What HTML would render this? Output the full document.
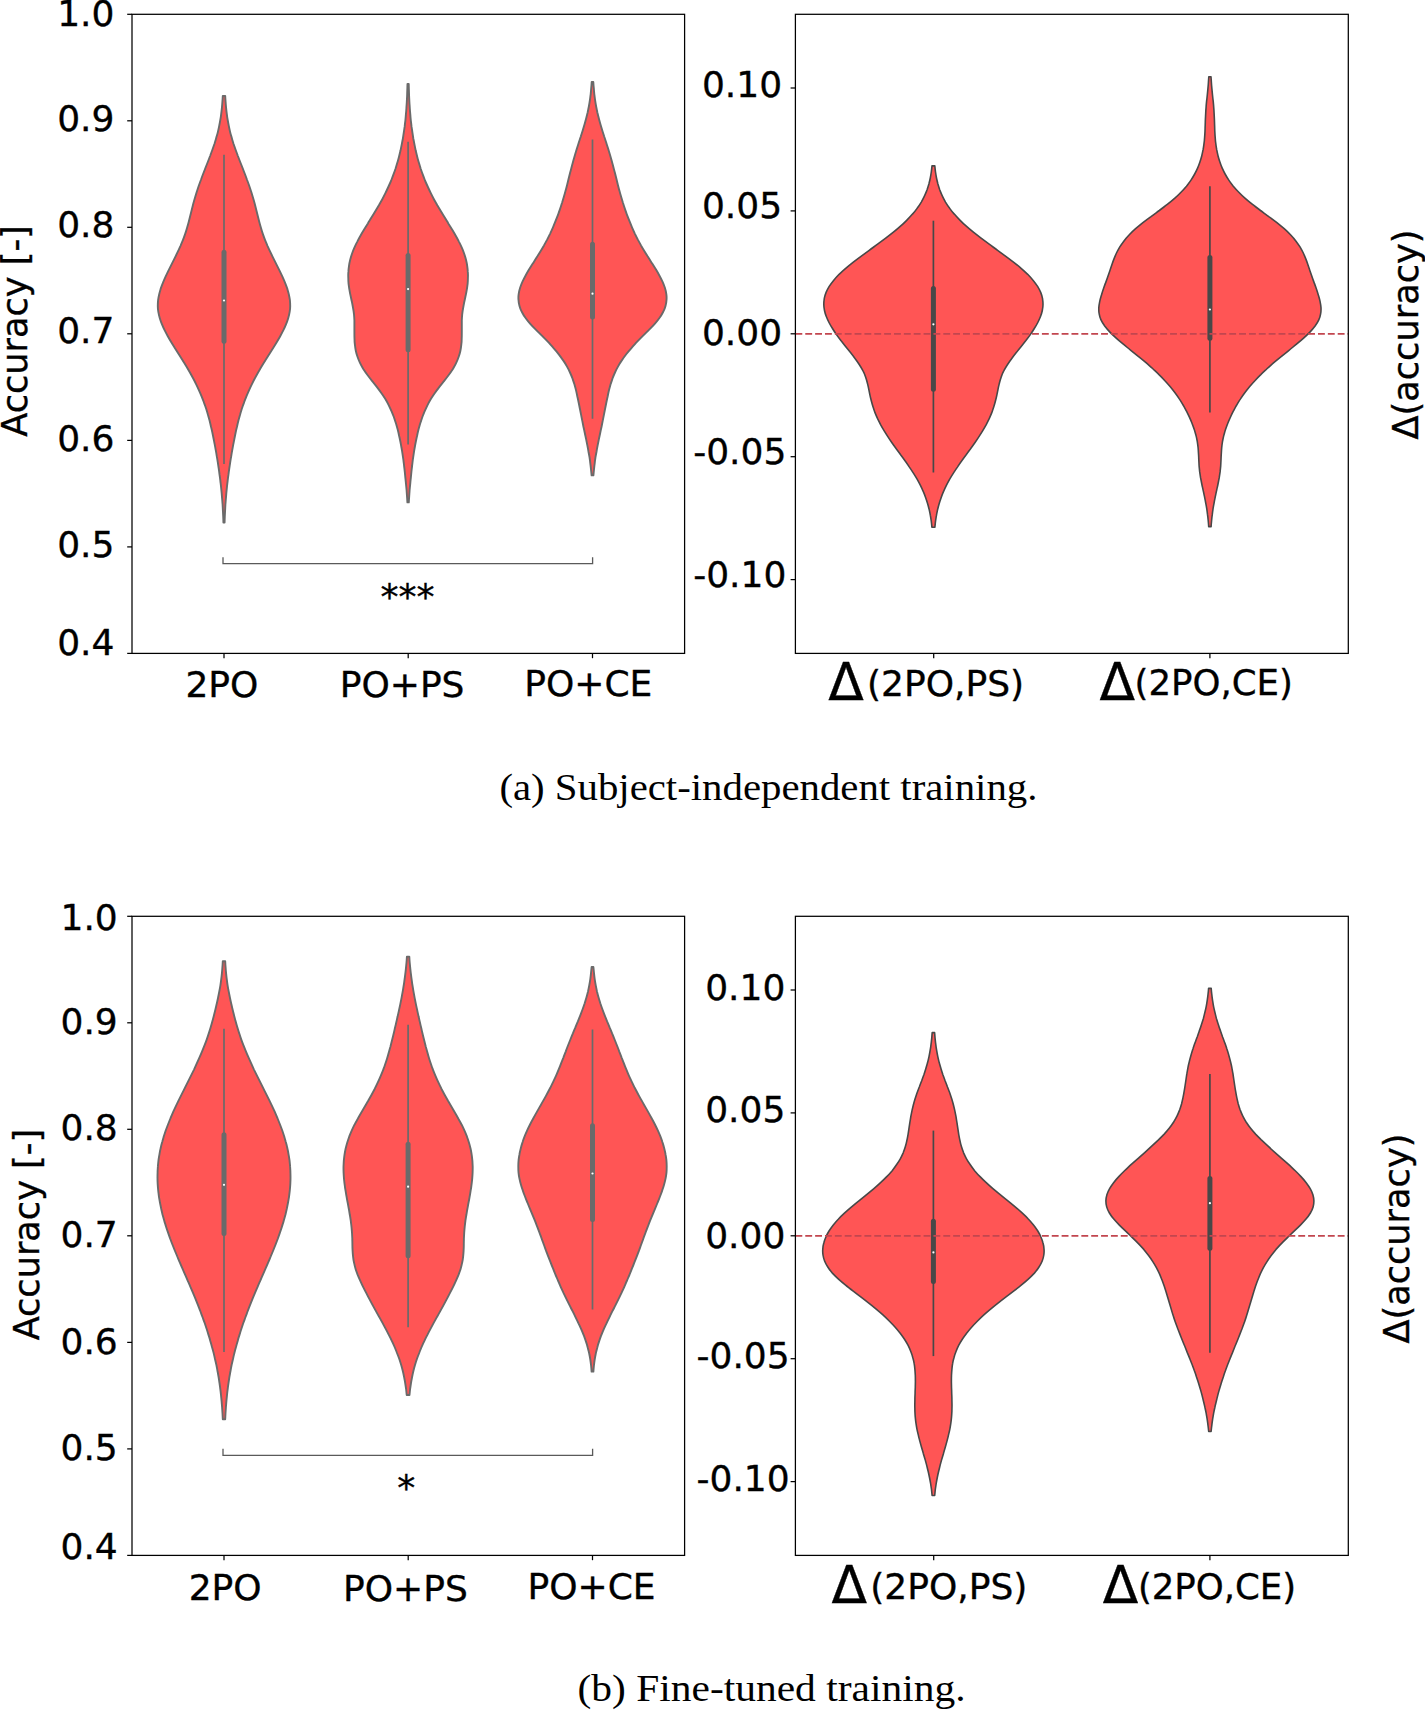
<!DOCTYPE html>
<html><head><meta charset="utf-8"><title>Violin plots</title>
<style>
html,body{margin:0;padding:0;background:#fff}
body{width:1425px;height:1711px;overflow:hidden}
svg{display:block;font-family:"DejaVu Sans","Liberation Sans",sans-serif;fill:#000}
text{stroke:#000;stroke-width:.35px}
.cap{stroke:none}
.db{stroke-width:1.9px;stroke-linejoin:round}
</style></head><body>
<svg width="1425" height="1711" viewBox="0 0 1425 1711">
<rect width="1425" height="1711" fill="#fff"/>
<path d="M225.2 95.9C225.3 97.9 225.4 99.9 225.6 101.9C225.7 103.9 225.9 105.9 226.1 107.9C226.3 109.9 226.5 111.9 226.8 113.9C227.0 115.9 227.3 117.9 227.7 119.9C228.0 121.9 228.4 123.9 228.8 125.9C229.2 127.9 229.6 129.9 230.1 131.9C230.6 133.9 231.2 135.9 231.8 138.0C232.3 140.0 233.0 142.0 233.6 144.0C234.3 146.0 235.0 148.0 235.7 150.0C236.4 152.0 237.2 154.0 237.9 156.0C238.7 158.0 239.4 160.0 240.2 162.0C241.0 164.0 241.8 166.0 242.6 168.0C243.3 170.0 244.1 172.0 244.9 174.0C245.7 176.0 246.4 178.0 247.1 180.0C247.9 182.0 248.6 184.0 249.3 186.0C250.0 188.0 250.6 190.0 251.3 192.0C251.9 194.0 252.5 196.0 253.1 198.0C253.7 200.0 254.3 202.0 254.8 204.0C255.3 206.0 255.8 208.0 256.3 210.0C256.8 212.0 257.3 214.1 257.8 216.1C258.3 218.1 258.8 220.1 259.3 222.1C259.8 224.1 260.4 226.1 261.0 228.1C261.5 230.1 262.2 232.1 262.9 234.1C263.6 236.1 264.3 238.1 265.1 240.1C265.9 242.1 266.8 244.1 267.6 246.1C268.5 248.1 269.4 250.1 270.4 252.1C271.3 254.1 272.3 256.1 273.3 258.1C274.3 260.1 275.3 262.1 276.3 264.1C277.3 266.1 278.3 268.1 279.3 270.1C280.3 272.1 281.2 274.1 282.2 276.1C283.1 278.1 284.0 280.1 284.8 282.1C285.6 284.1 286.4 286.1 287.1 288.1C287.7 290.2 288.3 292.2 288.8 294.2C289.3 296.2 289.6 298.2 289.9 300.2C290.1 302.2 290.2 304.2 290.2 306.2C290.2 308.2 290.0 310.2 289.6 312.2C289.3 314.2 288.8 316.2 288.2 318.2C287.6 320.2 286.9 322.2 286.1 324.2C285.3 326.2 284.4 328.2 283.4 330.2C282.4 332.2 281.3 334.2 280.2 336.2C279.1 338.2 277.9 340.2 276.7 342.2C275.5 344.2 274.2 346.2 273.0 348.2C271.7 350.2 270.5 352.2 269.2 354.2C267.9 356.2 266.7 358.2 265.4 360.2C264.2 362.2 262.9 364.2 261.7 366.3C260.5 368.3 259.4 370.3 258.2 372.3C257.1 374.3 256.0 376.3 254.9 378.3C253.8 380.3 252.8 382.3 251.8 384.3C250.8 386.3 249.9 388.3 249.0 390.3C248.1 392.3 247.2 394.3 246.4 396.3C245.6 398.3 244.8 400.3 244.1 402.3C243.3 404.3 242.7 406.3 242.0 408.3C241.4 410.3 240.7 412.3 240.2 414.3C239.6 416.3 239.1 418.3 238.5 420.3C238.0 422.3 237.5 424.3 237.1 426.3C236.6 428.3 236.1 430.3 235.7 432.3C235.3 434.3 234.9 436.3 234.5 438.3C234.1 440.3 233.7 442.4 233.3 444.4C232.9 446.4 232.6 448.4 232.2 450.4C231.8 452.4 231.5 454.4 231.2 456.4C230.8 458.4 230.5 460.4 230.2 462.4C229.9 464.4 229.6 466.4 229.3 468.4C229.0 470.4 228.7 472.4 228.5 474.4C228.2 476.4 227.9 478.4 227.7 480.4C227.5 482.4 227.2 484.4 227.0 486.4C226.8 488.4 226.6 490.4 226.4 492.4C226.2 494.4 226.1 496.4 225.9 498.4C225.7 500.4 225.6 502.4 225.4 504.4C225.3 506.4 225.2 508.4 225.1 510.4C225.0 512.4 224.9 514.4 224.8 516.4C224.7 518.5 224.6 520.5 224.6 522.5L223.4 522.5C223.4 520.5 223.3 518.5 223.2 516.4C223.1 514.4 223.0 512.4 222.9 510.4C222.8 508.4 222.7 506.4 222.6 504.4C222.4 502.4 222.3 500.4 222.1 498.4C221.9 496.4 221.8 494.4 221.6 492.4C221.4 490.4 221.2 488.4 221.0 486.4C220.8 484.4 220.5 482.4 220.3 480.4C220.1 478.4 219.8 476.4 219.5 474.4C219.3 472.4 219.0 470.4 218.7 468.4C218.4 466.4 218.1 464.4 217.8 462.4C217.5 460.4 217.2 458.4 216.8 456.4C216.5 454.4 216.2 452.4 215.8 450.4C215.4 448.4 215.1 446.4 214.7 444.4C214.3 442.4 213.9 440.3 213.5 438.3C213.1 436.3 212.7 434.3 212.3 432.3C211.9 430.3 211.4 428.3 210.9 426.3C210.5 424.3 210.0 422.3 209.5 420.3C208.9 418.3 208.4 416.3 207.8 414.3C207.3 412.3 206.6 410.3 206.0 408.3C205.3 406.3 204.7 404.3 203.9 402.3C203.2 400.3 202.4 398.3 201.6 396.3C200.8 394.3 199.9 392.3 199.0 390.3C198.1 388.3 197.2 386.3 196.2 384.3C195.2 382.3 194.2 380.3 193.1 378.3C192.0 376.3 190.9 374.3 189.8 372.3C188.6 370.3 187.5 368.3 186.3 366.3C185.1 364.2 183.8 362.2 182.6 360.2C181.3 358.2 180.1 356.2 178.8 354.2C177.5 352.2 176.3 350.2 175.0 348.2C173.8 346.2 172.5 344.2 171.3 342.2C170.1 340.2 168.9 338.2 167.8 336.2C166.7 334.2 165.6 332.2 164.6 330.2C163.6 328.2 162.7 326.2 161.9 324.2C161.1 322.2 160.4 320.2 159.8 318.2C159.2 316.2 158.7 314.2 158.4 312.2C158.0 310.2 157.8 308.2 157.8 306.2C157.8 304.2 157.9 302.2 158.1 300.2C158.4 298.2 158.7 296.2 159.2 294.2C159.7 292.2 160.3 290.2 160.9 288.1C161.6 286.1 162.4 284.1 163.2 282.1C164.0 280.1 164.9 278.1 165.8 276.1C166.8 274.1 167.7 272.1 168.7 270.1C169.7 268.1 170.7 266.1 171.7 264.1C172.7 262.1 173.7 260.1 174.7 258.1C175.7 256.1 176.7 254.1 177.6 252.1C178.6 250.1 179.5 248.1 180.4 246.1C181.2 244.1 182.1 242.1 182.9 240.1C183.7 238.1 184.4 236.1 185.1 234.1C185.8 232.1 186.5 230.1 187.0 228.1C187.6 226.1 188.2 224.1 188.7 222.1C189.2 220.1 189.7 218.1 190.2 216.1C190.7 214.1 191.2 212.0 191.7 210.0C192.2 208.0 192.7 206.0 193.2 204.0C193.7 202.0 194.3 200.0 194.9 198.0C195.5 196.0 196.1 194.0 196.7 192.0C197.4 190.0 198.0 188.0 198.7 186.0C199.4 184.0 200.1 182.0 200.9 180.0C201.6 178.0 202.3 176.0 203.1 174.0C203.9 172.0 204.7 170.0 205.4 168.0C206.2 166.0 207.0 164.0 207.8 162.0C208.6 160.0 209.3 158.0 210.1 156.0C210.8 154.0 211.6 152.0 212.3 150.0C213.0 148.0 213.7 146.0 214.4 144.0C215.0 142.0 215.7 140.0 216.2 138.0C216.8 135.9 217.4 133.9 217.9 131.9C218.4 129.9 218.8 127.9 219.2 125.9C219.6 123.9 220.0 121.9 220.3 119.9C220.7 117.9 221.0 115.9 221.2 113.9C221.5 111.9 221.7 109.9 221.9 107.9C222.1 105.9 222.3 103.9 222.4 101.9C222.6 99.9 222.7 97.9 222.8 95.9Z" fill="#ff5555" stroke="#6a6a6a" stroke-width="1.9" stroke-linejoin="round"/>
<line x1="224.0" y1="154.8" x2="224.0" y2="464.0" stroke="#6a6a6a" stroke-width="1.7"/>
<line x1="224.0" y1="252.2" x2="224.0" y2="341.3" stroke="#6a6a6a" stroke-width="5" stroke-linecap="round"/>
<circle cx="224.0" cy="300.5" r="1.1" fill="#fff"/>
<path d="M408.7 83.9C408.8 86.0 408.8 88.0 408.9 90.0C409.0 92.0 409.0 94.0 409.1 96.1C409.2 98.1 409.3 100.1 409.4 102.1C409.5 104.1 409.7 106.2 409.8 108.2C409.9 110.2 410.1 112.2 410.3 114.3C410.4 116.3 410.6 118.3 410.8 120.3C411.1 122.3 411.3 124.4 411.5 126.4C411.8 128.4 412.1 130.4 412.4 132.4C412.7 134.5 413.0 136.5 413.3 138.5C413.7 140.5 414.1 142.6 414.5 144.6C414.9 146.6 415.3 148.6 415.7 150.6C416.2 152.7 416.7 154.7 417.2 156.7C417.7 158.7 418.3 160.7 418.9 162.8C419.5 164.8 420.1 166.8 420.7 168.8C421.4 170.9 422.1 172.9 422.9 174.9C423.6 176.9 424.4 178.9 425.2 181.0C426.1 183.0 427.0 185.0 427.9 187.0C428.8 189.0 429.8 191.1 430.8 193.1C431.8 195.1 432.8 197.1 433.9 199.2C435.0 201.2 436.2 203.2 437.3 205.2C438.5 207.2 439.7 209.3 440.9 211.3C442.1 213.3 443.3 215.3 444.6 217.3C445.8 219.4 447.1 221.4 448.3 223.4C449.6 225.4 450.8 227.5 452.1 229.5C453.3 231.5 454.5 233.5 455.6 235.5C456.8 237.6 457.9 239.6 458.9 241.6C460.0 243.6 460.9 245.6 461.8 247.7C462.7 249.7 463.5 251.7 464.2 253.7C464.9 255.8 465.5 257.8 466.0 259.8C466.5 261.8 466.9 263.8 467.2 265.9C467.5 267.9 467.7 269.9 467.8 271.9C468.0 273.9 468.0 276.0 467.9 278.0C467.9 280.0 467.8 282.0 467.6 284.1C467.3 286.1 467.1 288.1 466.7 290.1C466.4 292.1 466.0 294.2 465.5 296.2C465.1 298.2 464.7 300.2 464.2 302.2C463.8 304.3 463.4 306.3 463.1 308.3C462.7 310.3 462.4 312.4 462.2 314.4C462.0 316.4 461.9 318.4 461.8 320.4C461.8 322.5 461.8 324.5 461.8 326.5C461.8 328.5 461.8 330.5 461.8 332.6C461.8 334.6 461.8 336.6 461.7 338.6C461.7 340.7 461.6 342.7 461.3 344.7C461.1 346.7 460.8 348.7 460.4 350.8C460.0 352.8 459.4 354.8 458.7 356.8C458.0 358.8 457.2 360.9 456.2 362.9C455.3 364.9 454.1 366.9 452.9 369.0C451.6 371.0 450.2 373.0 448.7 375.0C447.2 377.0 445.6 379.1 444.0 381.1C442.4 383.1 440.7 385.1 439.2 387.1C437.6 389.2 436.1 391.2 434.7 393.2C433.3 395.2 432.0 397.3 430.7 399.3C429.5 401.3 428.4 403.3 427.4 405.3C426.4 407.4 425.5 409.4 424.6 411.4C423.7 413.4 423.0 415.4 422.2 417.5C421.5 419.5 420.9 421.5 420.2 423.5C419.6 425.6 419.1 427.6 418.5 429.6C418.0 431.6 417.5 433.6 417.1 435.7C416.6 437.7 416.2 439.7 415.8 441.7C415.4 443.7 415.0 445.8 414.7 447.8C414.3 449.8 414.0 451.8 413.7 453.9C413.4 455.9 413.1 457.9 412.8 459.9C412.6 461.9 412.3 464.0 412.1 466.0C411.8 468.0 411.6 470.0 411.4 472.0C411.2 474.1 411.0 476.1 410.8 478.1C410.5 480.1 410.4 482.2 410.2 484.2C410.0 486.2 409.8 488.2 409.6 490.2C409.5 492.3 409.3 494.3 409.2 496.3C409.0 498.3 408.9 500.3 408.8 502.4L407.4 502.4C407.3 500.3 407.2 498.3 407.0 496.3C406.9 494.3 406.7 492.3 406.6 490.2C406.4 488.2 406.2 486.2 406.0 484.2C405.8 482.2 405.7 480.1 405.4 478.1C405.2 476.1 405.0 474.1 404.8 472.0C404.6 470.0 404.4 468.0 404.1 466.0C403.9 464.0 403.6 461.9 403.4 459.9C403.1 457.9 402.8 455.9 402.5 453.9C402.2 451.8 401.9 449.8 401.5 447.8C401.2 445.8 400.8 443.7 400.4 441.7C400.0 439.7 399.6 437.7 399.1 435.7C398.7 433.6 398.2 431.6 397.7 429.6C397.1 427.6 396.6 425.6 396.0 423.5C395.3 421.5 394.7 419.5 394.0 417.5C393.2 415.4 392.5 413.4 391.6 411.4C390.7 409.4 389.8 407.4 388.8 405.3C387.8 403.3 386.7 401.3 385.5 399.3C384.2 397.3 382.9 395.2 381.5 393.2C380.1 391.2 378.6 389.2 377.0 387.1C375.5 385.1 373.8 383.1 372.2 381.1C370.6 379.1 369.0 377.0 367.5 375.0C366.0 373.0 364.6 371.0 363.3 369.0C362.1 366.9 360.9 364.9 360.0 362.9C359.0 360.9 358.2 358.8 357.5 356.8C356.8 354.8 356.2 352.8 355.8 350.8C355.4 348.7 355.1 346.7 354.9 344.7C354.6 342.7 354.5 340.7 354.5 338.6C354.4 336.6 354.4 334.6 354.4 332.6C354.4 330.5 354.4 328.5 354.4 326.5C354.4 324.5 354.4 322.5 354.4 320.4C354.3 318.4 354.2 316.4 354.0 314.4C353.8 312.4 353.5 310.3 353.1 308.3C352.8 306.3 352.4 304.3 352.0 302.2C351.5 300.2 351.1 298.2 350.7 296.2C350.2 294.2 349.8 292.1 349.5 290.1C349.1 288.1 348.9 286.1 348.6 284.1C348.4 282.0 348.3 280.0 348.3 278.0C348.2 276.0 348.2 273.9 348.4 271.9C348.5 269.9 348.7 267.9 349.0 265.9C349.3 263.8 349.7 261.8 350.2 259.8C350.7 257.8 351.3 255.8 352.0 253.7C352.7 251.7 353.5 249.7 354.4 247.7C355.3 245.6 356.2 243.6 357.3 241.6C358.3 239.6 359.4 237.6 360.6 235.5C361.7 233.5 362.9 231.5 364.1 229.5C365.4 227.5 366.6 225.4 367.9 223.4C369.1 221.4 370.4 219.4 371.6 217.3C372.9 215.3 374.1 213.3 375.3 211.3C376.5 209.3 377.7 207.2 378.9 205.2C380.0 203.2 381.2 201.2 382.3 199.2C383.4 197.1 384.4 195.1 385.4 193.1C386.4 191.1 387.4 189.0 388.3 187.0C389.2 185.0 390.1 183.0 391.0 181.0C391.8 178.9 392.6 176.9 393.3 174.9C394.1 172.9 394.8 170.9 395.5 168.8C396.1 166.8 396.7 164.8 397.3 162.8C397.9 160.7 398.5 158.7 399.0 156.7C399.5 154.7 400.0 152.7 400.5 150.6C400.9 148.6 401.3 146.6 401.7 144.6C402.1 142.6 402.5 140.5 402.9 138.5C403.2 136.5 403.5 134.5 403.8 132.4C404.1 130.4 404.4 128.4 404.7 126.4C404.9 124.4 405.1 122.3 405.4 120.3C405.6 118.3 405.8 116.3 405.9 114.3C406.1 112.2 406.3 110.2 406.4 108.2C406.5 106.2 406.7 104.1 406.8 102.1C406.9 100.1 407.0 98.1 407.1 96.1C407.2 94.0 407.2 92.0 407.3 90.0C407.4 88.0 407.4 86.0 407.5 83.9Z" fill="#ff5555" stroke="#6a6a6a" stroke-width="1.9" stroke-linejoin="round"/>
<line x1="408.1" y1="141.8" x2="408.1" y2="444.4" stroke="#6a6a6a" stroke-width="1.7"/>
<line x1="408.1" y1="255.5" x2="408.1" y2="349.7" stroke="#6a6a6a" stroke-width="5" stroke-linecap="round"/>
<circle cx="408.1" cy="289.1" r="1.1" fill="#fff"/>
<path d="M593.3 82.0C593.4 84.0 593.6 86.1 593.8 88.1C593.9 90.1 594.1 92.1 594.3 94.1C594.6 96.1 594.8 98.2 595.1 100.2C595.4 102.2 595.7 104.2 596.1 106.2C596.5 108.2 596.9 110.3 597.3 112.3C597.8 114.3 598.3 116.3 598.8 118.3C599.3 120.3 599.9 122.4 600.5 124.4C601.1 126.4 601.7 128.4 602.3 130.4C602.9 132.4 603.6 134.5 604.2 136.5C604.9 138.5 605.5 140.5 606.2 142.5C606.8 144.6 607.5 146.6 608.1 148.6C608.7 150.6 609.3 152.6 609.9 154.6C610.5 156.7 611.1 158.7 611.7 160.7C612.2 162.7 612.8 164.7 613.3 166.7C613.8 168.8 614.4 170.8 614.9 172.8C615.4 174.8 615.9 176.8 616.4 178.8C616.9 180.9 617.4 182.9 617.9 184.9C618.4 186.9 618.9 188.9 619.5 190.9C620.0 193.0 620.6 195.0 621.2 197.0C621.8 199.0 622.4 201.0 623.0 203.0C623.7 205.1 624.3 207.1 625.0 209.1C625.7 211.1 626.4 213.1 627.1 215.2C627.9 217.2 628.7 219.2 629.5 221.2C630.3 223.2 631.1 225.2 632.0 227.3C632.9 229.3 633.8 231.3 634.7 233.3C635.7 235.3 636.7 237.3 637.7 239.4C638.8 241.4 639.9 243.4 641.0 245.4C642.2 247.4 643.4 249.4 644.6 251.5C645.8 253.5 647.1 255.5 648.4 257.5C649.6 259.5 650.9 261.5 652.2 263.6C653.5 265.6 654.7 267.6 656.0 269.6C657.2 271.6 658.4 273.7 659.5 275.7C660.6 277.7 661.6 279.7 662.5 281.7C663.4 283.7 664.2 285.8 664.9 287.8C665.5 289.8 666.0 291.8 666.3 293.8C666.6 295.8 666.7 297.9 666.5 299.9C666.4 301.9 666.1 303.9 665.5 305.9C665.0 307.9 664.2 310.0 663.1 312.0C662.1 314.0 660.9 316.0 659.4 318.0C658.0 320.0 656.3 322.1 654.5 324.1C652.7 326.1 650.7 328.1 648.7 330.1C646.7 332.1 644.6 334.2 642.6 336.2C640.6 338.2 638.6 340.2 636.7 342.2C634.8 344.3 632.9 346.3 631.2 348.3C629.4 350.3 627.7 352.3 626.2 354.3C624.6 356.4 623.1 358.4 621.8 360.4C620.4 362.4 619.2 364.4 618.1 366.4C616.9 368.5 615.9 370.5 615.0 372.5C614.1 374.5 613.2 376.5 612.5 378.5C611.8 380.6 611.1 382.6 610.5 384.6C610.0 386.6 609.4 388.6 608.9 390.6C608.4 392.7 608.0 394.7 607.6 396.7C607.1 398.7 606.7 400.7 606.3 402.7C605.9 404.8 605.5 406.8 605.1 408.8C604.7 410.8 604.3 412.8 603.9 414.9C603.5 416.9 603.1 418.9 602.7 420.9C602.3 422.9 601.9 424.9 601.5 427.0C601.0 429.0 600.6 431.0 600.2 433.0C599.8 435.0 599.3 437.0 598.9 439.1C598.5 441.1 598.1 443.1 597.7 445.1C597.3 447.1 596.9 449.1 596.6 451.2C596.2 453.2 595.8 455.2 595.5 457.2C595.2 459.2 594.9 461.2 594.7 463.3C594.4 465.3 594.2 467.3 594.0 469.3C593.8 471.3 593.6 473.4 593.4 475.4L591.6 475.4C591.4 473.4 591.2 471.3 591.0 469.3C590.8 467.3 590.6 465.3 590.3 463.3C590.1 461.2 589.8 459.2 589.5 457.2C589.2 455.2 588.8 453.2 588.4 451.2C588.1 449.1 587.7 447.1 587.3 445.1C586.9 443.1 586.5 441.1 586.1 439.1C585.7 437.0 585.2 435.0 584.8 433.0C584.4 431.0 584.0 429.0 583.5 427.0C583.1 424.9 582.7 422.9 582.3 420.9C581.9 418.9 581.5 416.9 581.1 414.9C580.7 412.8 580.3 410.8 579.9 408.8C579.5 406.8 579.1 404.8 578.7 402.7C578.3 400.7 577.9 398.7 577.4 396.7C577.0 394.7 576.6 392.7 576.1 390.6C575.6 388.6 575.0 386.6 574.5 384.6C573.9 382.6 573.2 380.6 572.5 378.5C571.8 376.5 570.9 374.5 570.0 372.5C569.1 370.5 568.1 368.5 566.9 366.4C565.8 364.4 564.6 362.4 563.2 360.4C561.9 358.4 560.4 356.4 558.8 354.3C557.3 352.3 555.6 350.3 553.8 348.3C552.1 346.3 550.2 344.3 548.3 342.2C546.4 340.2 544.4 338.2 542.4 336.2C540.4 334.2 538.3 332.1 536.3 330.1C534.3 328.1 532.3 326.1 530.5 324.1C528.7 322.1 527.0 320.0 525.6 318.0C524.1 316.0 522.9 314.0 521.9 312.0C520.8 310.0 520.0 307.9 519.5 305.9C518.9 303.9 518.6 301.9 518.5 299.9C518.3 297.9 518.4 295.8 518.7 293.8C519.0 291.8 519.5 289.8 520.1 287.8C520.8 285.8 521.6 283.7 522.5 281.7C523.4 279.7 524.4 277.7 525.5 275.7C526.6 273.7 527.8 271.6 529.0 269.6C530.3 267.6 531.5 265.6 532.8 263.6C534.1 261.5 535.4 259.5 536.6 257.5C537.9 255.5 539.2 253.5 540.4 251.5C541.6 249.4 542.8 247.4 544.0 245.4C545.1 243.4 546.2 241.4 547.3 239.4C548.3 237.3 549.3 235.3 550.3 233.3C551.2 231.3 552.1 229.3 553.0 227.3C553.9 225.2 554.7 223.2 555.5 221.2C556.3 219.2 557.1 217.2 557.9 215.2C558.6 213.1 559.3 211.1 560.0 209.1C560.7 207.1 561.3 205.1 562.0 203.0C562.6 201.0 563.2 199.0 563.8 197.0C564.4 195.0 565.0 193.0 565.5 190.9C566.1 188.9 566.6 186.9 567.1 184.9C567.6 182.9 568.1 180.9 568.6 178.8C569.1 176.8 569.6 174.8 570.1 172.8C570.6 170.8 571.2 168.8 571.7 166.7C572.2 164.7 572.8 162.7 573.3 160.7C573.9 158.7 574.5 156.7 575.1 154.6C575.7 152.6 576.3 150.6 576.9 148.6C577.5 146.6 578.2 144.6 578.8 142.5C579.5 140.5 580.1 138.5 580.8 136.5C581.4 134.5 582.1 132.4 582.7 130.4C583.3 128.4 583.9 126.4 584.5 124.4C585.1 122.4 585.7 120.3 586.2 118.3C586.7 116.3 587.2 114.3 587.7 112.3C588.1 110.3 588.5 108.2 588.9 106.2C589.3 104.2 589.6 102.2 589.9 100.2C590.2 98.2 590.4 96.1 590.7 94.1C590.9 92.1 591.1 90.1 591.2 88.1C591.4 86.1 591.6 84.0 591.7 82.0Z" fill="#ff5555" stroke="#6a6a6a" stroke-width="1.9" stroke-linejoin="round"/>
<line x1="592.5" y1="139.6" x2="592.5" y2="418.7" stroke="#6a6a6a" stroke-width="1.7"/>
<line x1="592.5" y1="244.2" x2="592.5" y2="317.1" stroke="#6a6a6a" stroke-width="5" stroke-linecap="round"/>
<circle cx="592.5" cy="293.7" r="1.1" fill="#fff"/>
<path d="M934.8 165.9C935.0 168.0 935.2 170.0 935.5 172.0C935.8 174.0 936.1 176.0 936.5 178.0C936.9 180.0 937.4 182.0 937.9 184.0C938.5 186.0 939.1 188.0 939.8 190.0C940.6 192.0 941.4 194.1 942.4 196.1C943.3 198.1 944.4 200.1 945.5 202.1C946.7 204.1 948.0 206.1 949.5 208.1C950.9 210.1 952.5 212.1 954.3 214.1C956.0 216.1 957.9 218.1 959.9 220.1C961.9 222.2 964.0 224.2 966.3 226.2C968.5 228.2 970.9 230.2 973.4 232.2C975.9 234.2 978.5 236.2 981.1 238.2C983.8 240.2 986.5 242.2 989.2 244.2C992.0 246.2 994.8 248.3 997.6 250.3C1000.3 252.3 1003.1 254.3 1005.8 256.3C1008.6 258.3 1011.2 260.3 1013.8 262.3C1016.3 264.3 1018.8 266.3 1021.1 268.3C1023.5 270.3 1025.6 272.3 1027.7 274.3C1029.7 276.4 1031.5 278.4 1033.2 280.4C1034.8 282.4 1036.3 284.4 1037.6 286.4C1038.8 288.4 1039.8 290.4 1040.7 292.4C1041.5 294.4 1042.1 296.4 1042.5 298.4C1042.8 300.4 1043.0 302.5 1043.0 304.5C1043.0 306.5 1042.7 308.5 1042.3 310.5C1041.9 312.5 1041.3 314.5 1040.5 316.5C1039.7 318.5 1038.8 320.5 1037.8 322.5C1036.8 324.5 1035.6 326.5 1034.3 328.5C1033.1 330.6 1031.7 332.6 1030.3 334.6C1028.9 336.6 1027.4 338.6 1025.9 340.6C1024.3 342.6 1022.8 344.6 1021.2 346.6C1019.6 348.6 1017.9 350.6 1016.3 352.6C1014.7 354.6 1013.1 356.7 1011.6 358.7C1010.1 360.7 1008.7 362.7 1007.4 364.7C1006.1 366.7 1004.9 368.7 1003.9 370.7C1002.8 372.7 1002.0 374.7 1001.3 376.7C1000.6 378.7 1000.0 380.7 999.5 382.7C999.0 384.8 998.5 386.8 998.1 388.8C997.7 390.8 997.3 392.8 996.9 394.8C996.5 396.8 996.0 398.8 995.5 400.8C995.0 402.8 994.4 404.8 993.8 406.8C993.2 408.8 992.4 410.9 991.7 412.9C990.9 414.9 990.0 416.9 989.1 418.9C988.1 420.9 987.1 422.9 986.1 424.9C985.0 426.9 983.8 428.9 982.6 430.9C981.4 432.9 980.1 434.9 978.8 436.9C977.5 439.0 976.1 441.0 974.7 443.0C973.3 445.0 971.8 447.0 970.4 449.0C968.9 451.0 967.4 453.0 966.0 455.0C964.5 457.0 963.0 459.0 961.6 461.0C960.1 463.0 958.7 465.1 957.4 467.1C956.0 469.1 954.7 471.1 953.4 473.1C952.1 475.1 950.9 477.1 949.7 479.1C948.6 481.1 947.5 483.1 946.5 485.1C945.5 487.1 944.5 489.1 943.7 491.2C942.8 493.2 942.0 495.2 941.3 497.2C940.6 499.2 939.9 501.2 939.3 503.2C938.7 505.2 938.2 507.2 937.7 509.2C937.3 511.2 936.8 513.2 936.5 515.2C936.1 517.2 935.8 519.3 935.5 521.3C935.3 523.3 935.0 525.3 934.9 527.3L931.9 527.3C931.8 525.3 931.5 523.3 931.3 521.3C931.0 519.3 930.7 517.2 930.3 515.2C930.0 513.2 929.5 511.2 929.1 509.2C928.6 507.2 928.1 505.2 927.5 503.2C926.9 501.2 926.2 499.2 925.5 497.2C924.8 495.2 924.0 493.2 923.1 491.2C922.3 489.1 921.3 487.1 920.3 485.1C919.3 483.1 918.2 481.1 917.1 479.1C915.9 477.1 914.7 475.1 913.4 473.1C912.1 471.1 910.8 469.1 909.4 467.1C908.1 465.1 906.7 463.0 905.2 461.0C903.8 459.0 902.3 457.0 900.8 455.0C899.4 453.0 897.9 451.0 896.4 449.0C895.0 447.0 893.5 445.0 892.1 443.0C890.7 441.0 889.3 439.0 888.0 436.9C886.7 434.9 885.4 432.9 884.2 430.9C883.0 428.9 881.8 426.9 880.7 424.9C879.7 422.9 878.7 420.9 877.7 418.9C876.8 416.9 875.9 414.9 875.1 412.9C874.4 410.9 873.6 408.8 873.0 406.8C872.4 404.8 871.8 402.8 871.3 400.8C870.8 398.8 870.3 396.8 869.9 394.8C869.5 392.8 869.1 390.8 868.7 388.8C868.3 386.8 867.8 384.8 867.3 382.7C866.8 380.7 866.2 378.7 865.5 376.7C864.8 374.7 864.0 372.7 862.9 370.7C861.9 368.7 860.7 366.7 859.4 364.7C858.1 362.7 856.7 360.7 855.2 358.7C853.7 356.7 852.1 354.6 850.5 352.6C848.9 350.6 847.2 348.6 845.6 346.6C844.0 344.6 842.5 342.6 840.9 340.6C839.4 338.6 837.9 336.6 836.5 334.6C835.1 332.6 833.7 330.6 832.5 328.5C831.2 326.5 830.0 324.5 829.0 322.5C828.0 320.5 827.1 318.5 826.3 316.5C825.5 314.5 824.9 312.5 824.5 310.5C824.1 308.5 823.8 306.5 823.8 304.5C823.8 302.5 824.0 300.4 824.3 298.4C824.7 296.4 825.3 294.4 826.1 292.4C827.0 290.4 828.0 288.4 829.2 286.4C830.5 284.4 832.0 282.4 833.6 280.4C835.3 278.4 837.1 276.4 839.1 274.3C841.2 272.3 843.3 270.3 845.7 268.3C848.0 266.3 850.5 264.3 853.0 262.3C855.6 260.3 858.2 258.3 861.0 256.3C863.7 254.3 866.5 252.3 869.2 250.3C872.0 248.3 874.8 246.2 877.6 244.2C880.3 242.2 883.0 240.2 885.7 238.2C888.3 236.2 890.9 234.2 893.4 232.2C895.9 230.2 898.3 228.2 900.5 226.2C902.8 224.2 904.9 222.2 906.9 220.1C908.9 218.1 910.8 216.1 912.5 214.1C914.3 212.1 915.9 210.1 917.3 208.1C918.8 206.1 920.1 204.1 921.3 202.1C922.4 200.1 923.5 198.1 924.4 196.1C925.4 194.1 926.2 192.0 927.0 190.0C927.7 188.0 928.3 186.0 928.9 184.0C929.4 182.0 929.9 180.0 930.3 178.0C930.7 176.0 931.0 174.0 931.3 172.0C931.6 170.0 931.8 168.0 932.0 165.9Z" fill="#ff5555" stroke="#484848" stroke-width="1.6" stroke-linejoin="round"/>
<line x1="933.4" y1="220.7" x2="933.4" y2="472.5" stroke="#484848" stroke-width="1.7"/>
<line x1="933.4" y1="288.6" x2="933.4" y2="389.2" stroke="#484848" stroke-width="5" stroke-linecap="round"/>
<circle cx="933.4" cy="324.3" r="1.1" fill="#fff"/>
<path d="M1211.0 76.7C1211.1 78.8 1211.3 80.8 1211.4 82.8C1211.5 84.8 1211.7 86.9 1211.9 88.9C1212.1 90.9 1212.3 92.9 1212.5 95.0C1212.7 97.0 1212.9 99.0 1213.2 101.1C1213.4 103.1 1213.6 105.1 1213.7 107.1C1213.9 109.2 1214.0 111.2 1214.1 113.2C1214.2 115.2 1214.3 117.3 1214.4 119.3C1214.5 121.3 1214.5 123.3 1214.6 125.4C1214.7 127.4 1214.7 129.4 1214.8 131.4C1214.9 133.5 1215.0 135.5 1215.2 137.5C1215.3 139.6 1215.5 141.6 1215.8 143.6C1216.0 145.6 1216.4 147.7 1216.7 149.7C1217.1 151.7 1217.5 153.7 1218.0 155.8C1218.5 157.8 1219.1 159.8 1219.8 161.8C1220.5 163.9 1221.2 165.9 1222.1 167.9C1223.0 169.9 1224.0 172.0 1225.1 174.0C1226.2 176.0 1227.4 178.1 1228.8 180.1C1230.1 182.1 1231.7 184.1 1233.3 186.2C1235.0 188.2 1236.8 190.2 1238.8 192.2C1240.8 194.3 1242.9 196.3 1245.2 198.3C1247.5 200.3 1250.0 202.4 1252.5 204.4C1255.1 206.4 1257.8 208.4 1260.5 210.5C1263.2 212.5 1266.0 214.5 1268.8 216.6C1271.6 218.6 1274.3 220.6 1276.9 222.6C1279.5 224.7 1281.9 226.7 1284.2 228.7C1286.5 230.7 1288.6 232.8 1290.5 234.8C1292.4 236.8 1294.2 238.8 1295.8 240.9C1297.3 242.9 1298.7 244.9 1300.0 246.9C1301.2 249.0 1302.3 251.0 1303.3 253.0C1304.3 255.1 1305.1 257.1 1305.9 259.1C1306.7 261.1 1307.4 263.2 1308.1 265.2C1308.8 267.2 1309.4 269.2 1310.1 271.3C1310.8 273.3 1311.5 275.3 1312.2 277.3C1312.9 279.4 1313.7 281.4 1314.4 283.4C1315.2 285.4 1315.9 287.5 1316.6 289.5C1317.3 291.5 1317.9 293.6 1318.5 295.6C1319.1 297.6 1319.7 299.6 1320.1 301.7C1320.5 303.7 1320.8 305.7 1321.0 307.7C1321.1 309.8 1321.0 311.8 1320.6 313.8C1320.3 315.8 1319.7 317.9 1318.8 319.9C1317.9 321.9 1316.6 323.9 1315.1 326.0C1313.6 328.0 1311.9 330.0 1309.9 332.1C1308.0 334.1 1305.8 336.1 1303.6 338.1C1301.3 340.2 1298.9 342.2 1296.5 344.2C1294.0 346.2 1291.5 348.3 1289.0 350.3C1286.5 352.3 1284.0 354.3 1281.5 356.4C1279.0 358.4 1276.5 360.4 1274.1 362.4C1271.8 364.5 1269.4 366.5 1267.2 368.5C1265.0 370.6 1262.8 372.6 1260.8 374.6C1258.7 376.6 1256.7 378.7 1254.9 380.7C1253.0 382.7 1251.2 384.7 1249.5 386.8C1247.9 388.8 1246.3 390.8 1244.8 392.8C1243.2 394.9 1241.8 396.9 1240.5 398.9C1239.1 400.9 1237.9 403.0 1236.7 405.0C1235.5 407.0 1234.4 409.1 1233.3 411.1C1232.3 413.1 1231.3 415.1 1230.4 417.2C1229.5 419.2 1228.6 421.2 1227.8 423.2C1227.0 425.3 1226.3 427.3 1225.6 429.3C1224.9 431.3 1224.4 433.4 1223.8 435.4C1223.3 437.4 1222.9 439.4 1222.5 441.5C1222.2 443.5 1221.9 445.5 1221.7 447.6C1221.5 449.6 1221.4 451.6 1221.3 453.6C1221.1 455.7 1221.1 457.7 1221.0 459.7C1220.9 461.7 1220.8 463.8 1220.7 465.8C1220.5 467.8 1220.3 469.8 1220.1 471.9C1219.8 473.9 1219.5 475.9 1219.2 477.9C1218.8 480.0 1218.4 482.0 1218.0 484.0C1217.6 486.1 1217.1 488.1 1216.7 490.1C1216.2 492.1 1215.8 494.2 1215.4 496.2C1215.0 498.2 1214.5 500.2 1214.2 502.3C1213.8 504.3 1213.4 506.3 1213.1 508.3C1212.8 510.4 1212.5 512.4 1212.3 514.4C1212.0 516.4 1211.8 518.5 1211.6 520.5C1211.4 522.5 1211.2 524.6 1211.1 526.6L1208.7 526.6C1208.6 524.6 1208.4 522.5 1208.2 520.5C1208.0 518.5 1207.8 516.4 1207.5 514.4C1207.3 512.4 1207.0 510.4 1206.7 508.3C1206.4 506.3 1206.0 504.3 1205.6 502.3C1205.3 500.2 1204.8 498.2 1204.4 496.2C1204.0 494.2 1203.6 492.1 1203.1 490.1C1202.7 488.1 1202.2 486.1 1201.8 484.0C1201.4 482.0 1201.0 480.0 1200.6 477.9C1200.3 475.9 1200.0 473.9 1199.7 471.9C1199.5 469.8 1199.3 467.8 1199.1 465.8C1199.0 463.8 1198.9 461.7 1198.8 459.7C1198.7 457.7 1198.7 455.7 1198.5 453.6C1198.4 451.6 1198.3 449.6 1198.1 447.6C1197.9 445.5 1197.6 443.5 1197.3 441.5C1196.9 439.4 1196.5 437.4 1196.0 435.4C1195.4 433.4 1194.9 431.3 1194.2 429.3C1193.5 427.3 1192.8 425.3 1192.0 423.2C1191.2 421.2 1190.3 419.2 1189.4 417.2C1188.5 415.1 1187.5 413.1 1186.5 411.1C1185.4 409.1 1184.3 407.0 1183.1 405.0C1181.9 403.0 1180.7 400.9 1179.3 398.9C1178.0 396.9 1176.6 394.9 1175.0 392.8C1173.5 390.8 1171.9 388.8 1170.3 386.8C1168.6 384.7 1166.8 382.7 1164.9 380.7C1163.1 378.7 1161.1 376.6 1159.0 374.6C1157.0 372.6 1154.8 370.6 1152.6 368.5C1150.4 366.5 1148.0 364.5 1145.7 362.4C1143.3 360.4 1140.8 358.4 1138.3 356.4C1135.8 354.3 1133.3 352.3 1130.8 350.3C1128.3 348.3 1125.8 346.2 1123.3 344.2C1120.9 342.2 1118.5 340.2 1116.2 338.1C1114.0 336.1 1111.8 334.1 1109.9 332.1C1107.9 330.0 1106.2 328.0 1104.7 326.0C1103.2 323.9 1101.9 321.9 1101.0 319.9C1100.1 317.9 1099.5 315.8 1099.2 313.8C1098.8 311.8 1098.7 309.8 1098.8 307.7C1099.0 305.7 1099.3 303.7 1099.7 301.7C1100.1 299.6 1100.7 297.6 1101.3 295.6C1101.9 293.6 1102.5 291.5 1103.2 289.5C1103.9 287.5 1104.6 285.4 1105.4 283.4C1106.1 281.4 1106.9 279.4 1107.6 277.3C1108.3 275.3 1109.0 273.3 1109.7 271.3C1110.4 269.2 1111.0 267.2 1111.7 265.2C1112.4 263.2 1113.1 261.1 1113.9 259.1C1114.7 257.1 1115.5 255.1 1116.5 253.0C1117.5 251.0 1118.6 249.0 1119.8 246.9C1121.1 244.9 1122.5 242.9 1124.0 240.9C1125.6 238.8 1127.4 236.8 1129.3 234.8C1131.2 232.8 1133.3 230.7 1135.6 228.7C1137.9 226.7 1140.3 224.7 1142.9 222.6C1145.5 220.6 1148.2 218.6 1151.0 216.6C1153.8 214.5 1156.6 212.5 1159.3 210.5C1162.0 208.4 1164.7 206.4 1167.3 204.4C1169.8 202.4 1172.3 200.3 1174.6 198.3C1176.9 196.3 1179.0 194.3 1181.0 192.2C1183.0 190.2 1184.8 188.2 1186.5 186.2C1188.1 184.1 1189.7 182.1 1191.0 180.1C1192.4 178.1 1193.6 176.0 1194.7 174.0C1195.8 172.0 1196.8 169.9 1197.7 167.9C1198.6 165.9 1199.3 163.9 1200.0 161.8C1200.7 159.8 1201.3 157.8 1201.8 155.8C1202.3 153.7 1202.7 151.7 1203.1 149.7C1203.4 147.7 1203.8 145.6 1204.0 143.6C1204.3 141.6 1204.5 139.6 1204.6 137.5C1204.8 135.5 1204.9 133.5 1205.0 131.4C1205.1 129.4 1205.1 127.4 1205.2 125.4C1205.3 123.3 1205.3 121.3 1205.4 119.3C1205.5 117.3 1205.6 115.2 1205.7 113.2C1205.8 111.2 1205.9 109.2 1206.1 107.1C1206.2 105.1 1206.4 103.1 1206.6 101.1C1206.9 99.0 1207.1 97.0 1207.3 95.0C1207.5 92.9 1207.7 90.9 1207.9 88.9C1208.1 86.9 1208.3 84.8 1208.4 82.8C1208.5 80.8 1208.7 78.8 1208.8 76.7Z" fill="#ff5555" stroke="#484848" stroke-width="1.6" stroke-linejoin="round"/>
<line x1="1209.9" y1="186.2" x2="1209.9" y2="412.4" stroke="#484848" stroke-width="1.7"/>
<line x1="1209.9" y1="257.5" x2="1209.9" y2="338.3" stroke="#484848" stroke-width="5" stroke-linecap="round"/>
<circle cx="1209.9" cy="309.5" r="1.1" fill="#fff"/>
<line x1="795.4" y1="333.9" x2="1348.2" y2="333.9" stroke="#c2464f" stroke-width="1.7" stroke-dasharray="6.88 2.98"/>
<rect x="132.0" y="14.3" width="552.6" height="639.1" fill="none" stroke="#000" stroke-width="1.25"/>
<line x1="127.2" y1="653.4" x2="132.0" y2="653.4" stroke="#000" stroke-width="1.25"/>
<line x1="127.2" y1="546.9" x2="132.0" y2="546.9" stroke="#000" stroke-width="1.25"/>
<line x1="127.2" y1="440.4" x2="132.0" y2="440.4" stroke="#000" stroke-width="1.25"/>
<line x1="127.2" y1="333.8" x2="132.0" y2="333.8" stroke="#000" stroke-width="1.25"/>
<line x1="127.2" y1="227.3" x2="132.0" y2="227.3" stroke="#000" stroke-width="1.25"/>
<line x1="127.2" y1="120.8" x2="132.0" y2="120.8" stroke="#000" stroke-width="1.25"/>
<line x1="127.2" y1="14.3" x2="132.0" y2="14.3" stroke="#000" stroke-width="1.25"/>
<line x1="224.0" y1="653.4" x2="224.0" y2="658.2" stroke="#000" stroke-width="1.25"/>
<line x1="408.2" y1="653.4" x2="408.2" y2="658.2" stroke="#000" stroke-width="1.25"/>
<line x1="592.5" y1="653.4" x2="592.5" y2="658.2" stroke="#000" stroke-width="1.25"/>
<rect x="795.4" y="14.3" width="552.9" height="639.1" fill="none" stroke="#000" stroke-width="1.25"/>
<line x1="790.6" y1="88.0" x2="795.4" y2="88.0" stroke="#000" stroke-width="1.25"/>
<line x1="790.6" y1="210.9" x2="795.4" y2="210.9" stroke="#000" stroke-width="1.25"/>
<line x1="790.6" y1="333.8" x2="795.4" y2="333.8" stroke="#000" stroke-width="1.25"/>
<line x1="790.6" y1="456.7" x2="795.4" y2="456.7" stroke="#000" stroke-width="1.25"/>
<line x1="790.6" y1="579.6" x2="795.4" y2="579.6" stroke="#000" stroke-width="1.25"/>
<line x1="933.7" y1="653.4" x2="933.7" y2="658.2" stroke="#000" stroke-width="1.25"/>
<line x1="1209.9" y1="653.4" x2="1209.9" y2="658.2" stroke="#000" stroke-width="1.25"/>
<path d="M223 557.2V563.7H592.6V557.2" fill="none" stroke="#5a5a5a" stroke-width="1.3"/>
<text x="407.4" y="608.5" font-size="36" text-anchor="middle">***</text>
<text x="57.2" y="26.3" font-size="36" text-anchor="start">1.0</text>
<text x="57.2" y="130.6" font-size="36" text-anchor="start">0.9</text>
<text x="57.2" y="236.5" font-size="36" text-anchor="start">0.8</text>
<text x="57.2" y="343.1" font-size="36" text-anchor="start">0.7</text>
<text x="57.2" y="451.0" font-size="36" text-anchor="start">0.6</text>
<text x="57.2" y="556.8" font-size="36" text-anchor="start">0.5</text>
<text x="57.2" y="655.2" font-size="36" text-anchor="start">0.4</text>
<text x="701.9" y="96.8" font-size="36" text-anchor="start">0.10</text>
<text x="701.9" y="218.4" font-size="36" text-anchor="start">0.05</text>
<text x="701.9" y="344.5" font-size="36" text-anchor="start">0.00</text>
<text x="693.2" y="464.2" font-size="36" text-anchor="start">-0.05</text>
<text x="693.2" y="587.3" font-size="36" text-anchor="start">-0.10</text>
<text x="185.4" y="697.0" font-size="36" text-anchor="start">2PO</text>
<text x="339.7" y="697.3" font-size="36" text-anchor="start">PO+PS</text>
<text x="524.2" y="695.5" font-size="36" text-anchor="start">PO+CE</text>
<text x="828.2" y="699.8" font-size="52" text-anchor="start">Δ</text>
<text x="867.0" y="695.6" font-size="36" text-anchor="start">(2PO,PS)</text>
<text x="1099.5" y="699.8" font-size="52" text-anchor="start">Δ</text>
<text x="1134.6" y="695.2" font-size="36" text-anchor="start" textLength="158.3" lengthAdjust="spacingAndGlyphs">(2PO,CE)</text>
<text transform="translate(27.3 331.0) rotate(-90)" font-size="36" text-anchor="middle" textLength="211.5" lengthAdjust="spacingAndGlyphs">Accuracy [-]</text>
<text transform="translate(1418.3 334.5) rotate(-90)" font-size="36" text-anchor="middle" textLength="210" lengthAdjust="spacingAndGlyphs">Δ(accuracy)</text>
<path d="M225.2 961.3C225.3 963.3 225.4 965.3 225.6 967.3C225.7 969.3 225.9 971.4 226.1 973.4C226.3 975.4 226.5 977.4 226.8 979.4C227.0 981.4 227.3 983.4 227.6 985.4C227.9 987.4 228.3 989.4 228.7 991.4C229.1 993.4 229.5 995.5 229.9 997.5C230.3 999.5 230.7 1001.5 231.2 1003.5C231.7 1005.5 232.1 1007.5 232.6 1009.5C233.1 1011.5 233.6 1013.5 234.1 1015.5C234.6 1017.5 235.1 1019.6 235.7 1021.6C236.2 1023.6 236.8 1025.6 237.4 1027.6C238.0 1029.6 238.6 1031.6 239.3 1033.6C239.9 1035.6 240.6 1037.6 241.3 1039.6C242.0 1041.6 242.8 1043.7 243.6 1045.7C244.4 1047.7 245.2 1049.7 246.0 1051.7C246.8 1053.7 247.7 1055.7 248.6 1057.7C249.5 1059.7 250.4 1061.7 251.3 1063.7C252.2 1065.8 253.2 1067.8 254.1 1069.8C255.1 1071.8 256.1 1073.8 257.1 1075.8C258.1 1077.8 259.1 1079.8 260.1 1081.8C261.1 1083.8 262.1 1085.8 263.1 1087.8C264.1 1089.9 265.1 1091.9 266.1 1093.9C267.1 1095.9 268.1 1097.9 269.1 1099.9C270.1 1101.9 271.0 1103.9 272.0 1105.9C272.9 1107.9 273.9 1109.9 274.8 1111.9C275.7 1114.0 276.5 1116.0 277.4 1118.0C278.2 1120.0 279.0 1122.0 279.8 1124.0C280.6 1126.0 281.3 1128.0 282.1 1130.0C282.8 1132.0 283.4 1134.0 284.1 1136.0C284.7 1138.1 285.3 1140.1 285.8 1142.1C286.4 1144.1 286.9 1146.1 287.3 1148.1C287.8 1150.1 288.2 1152.1 288.5 1154.1C288.9 1156.1 289.2 1158.1 289.5 1160.1C289.7 1162.2 289.9 1164.2 290.1 1166.2C290.2 1168.2 290.4 1170.2 290.4 1172.2C290.5 1174.2 290.5 1176.2 290.5 1178.2C290.5 1180.2 290.4 1182.2 290.3 1184.2C290.2 1186.3 290.0 1188.3 289.8 1190.3C289.6 1192.3 289.3 1194.3 289.1 1196.3C288.8 1198.3 288.4 1200.3 288.1 1202.3C287.7 1204.3 287.3 1206.3 286.9 1208.3C286.4 1210.4 286.0 1212.4 285.5 1214.4C284.9 1216.4 284.4 1218.4 283.8 1220.4C283.3 1222.4 282.6 1224.4 282.0 1226.4C281.4 1228.4 280.7 1230.4 280.0 1232.4C279.3 1234.5 278.6 1236.5 277.9 1238.5C277.1 1240.5 276.4 1242.5 275.6 1244.5C274.8 1246.5 274.0 1248.5 273.2 1250.5C272.4 1252.5 271.5 1254.5 270.7 1256.5C269.8 1258.6 269.0 1260.6 268.1 1262.6C267.3 1264.6 266.4 1266.6 265.5 1268.6C264.7 1270.6 263.8 1272.6 262.9 1274.6C262.0 1276.6 261.1 1278.6 260.3 1280.6C259.4 1282.7 258.5 1284.7 257.7 1286.7C256.8 1288.7 256.0 1290.7 255.1 1292.7C254.3 1294.7 253.4 1296.7 252.6 1298.7C251.8 1300.7 251.0 1302.7 250.2 1304.7C249.4 1306.8 248.6 1308.8 247.8 1310.8C247.1 1312.8 246.3 1314.8 245.6 1316.8C244.9 1318.8 244.1 1320.8 243.4 1322.8C242.7 1324.8 242.1 1326.8 241.4 1328.8C240.7 1330.9 240.1 1332.9 239.5 1334.9C238.8 1336.9 238.2 1338.9 237.7 1340.9C237.1 1342.9 236.5 1344.9 236.0 1346.9C235.4 1348.9 234.9 1350.9 234.4 1352.9C233.9 1355.0 233.4 1357.0 233.0 1359.0C232.5 1361.0 232.1 1363.0 231.6 1365.0C231.2 1367.0 230.8 1369.0 230.5 1371.0C230.1 1373.0 229.8 1375.0 229.4 1377.0C229.1 1379.1 228.8 1381.1 228.5 1383.1C228.2 1385.1 227.9 1387.1 227.7 1389.1C227.4 1391.1 227.2 1393.1 227.0 1395.1C226.8 1397.1 226.6 1399.1 226.4 1401.1C226.2 1403.2 226.1 1405.2 225.9 1407.2C225.8 1409.2 225.6 1411.2 225.5 1413.2C225.4 1415.2 225.3 1417.2 225.2 1419.2L222.8 1419.2C222.7 1417.2 222.6 1415.2 222.5 1413.2C222.4 1411.2 222.2 1409.2 222.1 1407.2C221.9 1405.2 221.8 1403.2 221.6 1401.1C221.4 1399.1 221.2 1397.1 221.0 1395.1C220.8 1393.1 220.6 1391.1 220.3 1389.1C220.1 1387.1 219.8 1385.1 219.5 1383.1C219.2 1381.1 218.9 1379.1 218.6 1377.0C218.2 1375.0 217.9 1373.0 217.5 1371.0C217.2 1369.0 216.8 1367.0 216.4 1365.0C215.9 1363.0 215.5 1361.0 215.0 1359.0C214.6 1357.0 214.1 1355.0 213.6 1352.9C213.1 1350.9 212.6 1348.9 212.0 1346.9C211.5 1344.9 210.9 1342.9 210.3 1340.9C209.8 1338.9 209.2 1336.9 208.5 1334.9C207.9 1332.9 207.3 1330.9 206.6 1328.8C205.9 1326.8 205.3 1324.8 204.6 1322.8C203.9 1320.8 203.1 1318.8 202.4 1316.8C201.7 1314.8 200.9 1312.8 200.2 1310.8C199.4 1308.8 198.6 1306.8 197.8 1304.7C197.0 1302.7 196.2 1300.7 195.4 1298.7C194.6 1296.7 193.7 1294.7 192.9 1292.7C192.0 1290.7 191.2 1288.7 190.3 1286.7C189.5 1284.7 188.6 1282.7 187.7 1280.6C186.9 1278.6 186.0 1276.6 185.1 1274.6C184.2 1272.6 183.3 1270.6 182.5 1268.6C181.6 1266.6 180.7 1264.6 179.9 1262.6C179.0 1260.6 178.2 1258.6 177.3 1256.5C176.5 1254.5 175.6 1252.5 174.8 1250.5C174.0 1248.5 173.2 1246.5 172.4 1244.5C171.6 1242.5 170.9 1240.5 170.1 1238.5C169.4 1236.5 168.7 1234.5 168.0 1232.4C167.3 1230.4 166.6 1228.4 166.0 1226.4C165.4 1224.4 164.7 1222.4 164.2 1220.4C163.6 1218.4 163.1 1216.4 162.5 1214.4C162.0 1212.4 161.6 1210.4 161.1 1208.3C160.7 1206.3 160.3 1204.3 159.9 1202.3C159.6 1200.3 159.2 1198.3 158.9 1196.3C158.7 1194.3 158.4 1192.3 158.2 1190.3C158.0 1188.3 157.8 1186.3 157.7 1184.2C157.6 1182.2 157.5 1180.2 157.5 1178.2C157.5 1176.2 157.5 1174.2 157.6 1172.2C157.6 1170.2 157.8 1168.2 157.9 1166.2C158.1 1164.2 158.3 1162.2 158.5 1160.1C158.8 1158.1 159.1 1156.1 159.5 1154.1C159.8 1152.1 160.2 1150.1 160.7 1148.1C161.1 1146.1 161.6 1144.1 162.2 1142.1C162.7 1140.1 163.3 1138.1 163.9 1136.0C164.6 1134.0 165.2 1132.0 165.9 1130.0C166.7 1128.0 167.4 1126.0 168.2 1124.0C169.0 1122.0 169.8 1120.0 170.6 1118.0C171.5 1116.0 172.3 1114.0 173.2 1111.9C174.1 1109.9 175.1 1107.9 176.0 1105.9C177.0 1103.9 177.9 1101.9 178.9 1099.9C179.9 1097.9 180.9 1095.9 181.9 1093.9C182.9 1091.9 183.9 1089.9 184.9 1087.8C185.9 1085.8 186.9 1083.8 187.9 1081.8C188.9 1079.8 189.9 1077.8 190.9 1075.8C191.9 1073.8 192.9 1071.8 193.9 1069.8C194.8 1067.8 195.8 1065.8 196.7 1063.7C197.6 1061.7 198.5 1059.7 199.4 1057.7C200.3 1055.7 201.2 1053.7 202.0 1051.7C202.8 1049.7 203.6 1047.7 204.4 1045.7C205.2 1043.7 206.0 1041.6 206.7 1039.6C207.4 1037.6 208.1 1035.6 208.7 1033.6C209.4 1031.6 210.0 1029.6 210.6 1027.6C211.2 1025.6 211.8 1023.6 212.3 1021.6C212.9 1019.6 213.4 1017.5 213.9 1015.5C214.4 1013.5 214.9 1011.5 215.4 1009.5C215.9 1007.5 216.3 1005.5 216.8 1003.5C217.3 1001.5 217.7 999.5 218.1 997.5C218.5 995.5 218.9 993.4 219.3 991.4C219.7 989.4 220.1 987.4 220.4 985.4C220.7 983.4 221.0 981.4 221.2 979.4C221.5 977.4 221.7 975.4 221.9 973.4C222.1 971.4 222.3 969.3 222.4 967.3C222.6 965.3 222.7 963.3 222.8 961.3Z" fill="#ff5555" stroke="#6a6a6a" stroke-width="1.9" stroke-linejoin="round"/>
<line x1="224.0" y1="1028.7" x2="224.0" y2="1352.0" stroke="#6a6a6a" stroke-width="1.7"/>
<line x1="224.0" y1="1134.7" x2="224.0" y2="1233.6" stroke="#6a6a6a" stroke-width="5" stroke-linecap="round"/>
<circle cx="224.0" cy="1184.8" r="1.1" fill="#fff"/>
<path d="M409.3 956.6C409.4 958.6 409.5 960.6 409.7 962.6C409.9 964.6 410.1 966.6 410.3 968.6C410.5 970.6 410.7 972.6 411.0 974.6C411.2 976.6 411.5 978.6 411.8 980.6C412.0 982.6 412.3 984.6 412.7 986.6C413.0 988.6 413.3 990.6 413.7 992.6C414.1 994.6 414.4 996.6 414.8 998.6C415.2 1000.6 415.6 1002.6 416.0 1004.6C416.4 1006.6 416.9 1008.6 417.3 1010.6C417.7 1012.6 418.2 1014.6 418.6 1016.6C419.1 1018.6 419.5 1020.6 420.0 1022.6C420.4 1024.6 420.9 1026.6 421.4 1028.6C421.8 1030.6 422.3 1032.6 422.8 1034.7C423.3 1036.7 423.8 1038.7 424.3 1040.7C424.8 1042.7 425.3 1044.7 425.8 1046.7C426.4 1048.7 426.9 1050.7 427.5 1052.7C428.0 1054.7 428.6 1056.7 429.2 1058.7C429.8 1060.7 430.5 1062.7 431.2 1064.7C431.8 1066.7 432.6 1068.7 433.3 1070.7C434.1 1072.7 434.9 1074.7 435.8 1076.7C436.6 1078.7 437.5 1080.7 438.5 1082.7C439.4 1084.7 440.4 1086.7 441.4 1088.7C442.5 1090.7 443.5 1092.7 444.6 1094.7C445.7 1096.7 446.9 1098.7 448.0 1100.7C449.2 1102.7 450.3 1104.7 451.5 1106.7C452.7 1108.7 453.8 1110.7 455.0 1112.7C456.2 1114.7 457.3 1116.7 458.4 1118.7C459.6 1120.7 460.6 1122.7 461.7 1124.7C462.7 1126.7 463.6 1128.7 464.5 1130.7C465.4 1132.7 466.2 1134.7 467.0 1136.7C467.7 1138.8 468.4 1140.8 469.0 1142.8C469.6 1144.8 470.1 1146.8 470.6 1148.8C471.0 1150.8 471.4 1152.8 471.7 1154.8C472.0 1156.8 472.2 1158.8 472.4 1160.8C472.5 1162.8 472.6 1164.8 472.7 1166.8C472.7 1168.8 472.7 1170.8 472.6 1172.8C472.5 1174.8 472.4 1176.8 472.2 1178.8C472.0 1180.8 471.8 1182.8 471.5 1184.8C471.3 1186.8 471.0 1188.8 470.6 1190.8C470.3 1192.8 470.0 1194.8 469.6 1196.8C469.3 1198.8 468.9 1200.8 468.5 1202.8C468.1 1204.8 467.8 1206.8 467.4 1208.8C467.0 1210.8 466.7 1212.8 466.4 1214.8C466.0 1216.8 465.7 1218.8 465.4 1220.8C465.2 1222.8 464.9 1224.8 464.7 1226.8C464.5 1228.8 464.3 1230.8 464.2 1232.8C464.1 1234.8 464.0 1236.8 463.9 1238.8C463.9 1240.8 463.8 1242.9 463.8 1244.9C463.8 1246.9 463.7 1248.9 463.6 1250.9C463.5 1252.9 463.3 1254.9 463.1 1256.9C462.9 1258.9 462.6 1260.9 462.1 1262.9C461.7 1264.9 461.2 1266.9 460.6 1268.9C460.0 1270.9 459.2 1272.9 458.5 1274.9C457.7 1276.9 456.8 1278.9 455.9 1280.9C455.0 1282.9 454.1 1284.9 453.1 1286.9C452.1 1288.9 451.1 1290.9 450.0 1292.9C449.0 1294.9 448.0 1296.9 446.9 1298.9C445.8 1300.9 444.8 1302.9 443.7 1304.9C442.6 1306.9 441.5 1308.9 440.4 1310.9C439.3 1312.9 438.2 1314.9 437.0 1316.9C435.9 1318.9 434.8 1320.9 433.7 1322.9C432.6 1324.9 431.6 1326.9 430.5 1328.9C429.4 1330.9 428.4 1332.9 427.4 1334.9C426.3 1336.9 425.3 1338.9 424.4 1340.9C423.4 1342.9 422.5 1344.9 421.6 1347.0C420.8 1349.0 419.9 1351.0 419.2 1353.0C418.4 1355.0 417.6 1357.0 416.9 1359.0C416.2 1361.0 415.6 1363.0 415.0 1365.0C414.4 1367.0 413.9 1369.0 413.4 1371.0C412.9 1373.0 412.5 1375.0 412.1 1377.0C411.7 1379.0 411.3 1381.0 411.0 1383.0C410.7 1385.0 410.4 1387.0 410.1 1389.0C409.9 1391.0 409.7 1393.0 409.5 1395.0L406.7 1395.0C406.5 1393.0 406.3 1391.0 406.1 1389.0C405.8 1387.0 405.5 1385.0 405.2 1383.0C404.9 1381.0 404.5 1379.0 404.1 1377.0C403.7 1375.0 403.3 1373.0 402.8 1371.0C402.3 1369.0 401.8 1367.0 401.2 1365.0C400.6 1363.0 400.0 1361.0 399.3 1359.0C398.6 1357.0 397.8 1355.0 397.0 1353.0C396.3 1351.0 395.4 1349.0 394.6 1347.0C393.7 1344.9 392.8 1342.9 391.8 1340.9C390.9 1338.9 389.9 1336.9 388.8 1334.9C387.8 1332.9 386.8 1330.9 385.7 1328.9C384.6 1326.9 383.6 1324.9 382.5 1322.9C381.4 1320.9 380.3 1318.9 379.2 1316.9C378.0 1314.9 376.9 1312.9 375.8 1310.9C374.7 1308.9 373.6 1306.9 372.5 1304.9C371.4 1302.9 370.4 1300.9 369.3 1298.9C368.2 1296.9 367.2 1294.9 366.2 1292.9C365.1 1290.9 364.1 1288.9 363.1 1286.9C362.1 1284.9 361.2 1282.9 360.3 1280.9C359.4 1278.9 358.5 1276.9 357.7 1274.9C357.0 1272.9 356.2 1270.9 355.6 1268.9C355.0 1266.9 354.5 1264.9 354.1 1262.9C353.6 1260.9 353.3 1258.9 353.1 1256.9C352.9 1254.9 352.7 1252.9 352.6 1250.9C352.5 1248.9 352.4 1246.9 352.4 1244.9C352.4 1242.9 352.3 1240.8 352.3 1238.8C352.2 1236.8 352.1 1234.8 352.0 1232.8C351.9 1230.8 351.7 1228.8 351.5 1226.8C351.3 1224.8 351.0 1222.8 350.8 1220.8C350.5 1218.8 350.2 1216.8 349.8 1214.8C349.5 1212.8 349.2 1210.8 348.8 1208.8C348.4 1206.8 348.1 1204.8 347.7 1202.8C347.3 1200.8 346.9 1198.8 346.6 1196.8C346.2 1194.8 345.9 1192.8 345.6 1190.8C345.2 1188.8 344.9 1186.8 344.7 1184.8C344.4 1182.8 344.2 1180.8 344.0 1178.8C343.8 1176.8 343.7 1174.8 343.6 1172.8C343.5 1170.8 343.5 1168.8 343.5 1166.8C343.6 1164.8 343.7 1162.8 343.8 1160.8C344.0 1158.8 344.2 1156.8 344.5 1154.8C344.8 1152.8 345.2 1150.8 345.6 1148.8C346.1 1146.8 346.6 1144.8 347.2 1142.8C347.8 1140.8 348.5 1138.8 349.2 1136.7C350.0 1134.7 350.8 1132.7 351.7 1130.7C352.6 1128.7 353.5 1126.7 354.5 1124.7C355.6 1122.7 356.6 1120.7 357.8 1118.7C358.9 1116.7 360.0 1114.7 361.2 1112.7C362.4 1110.7 363.5 1108.7 364.7 1106.7C365.9 1104.7 367.0 1102.7 368.2 1100.7C369.3 1098.7 370.5 1096.7 371.6 1094.7C372.7 1092.7 373.7 1090.7 374.8 1088.7C375.8 1086.7 376.8 1084.7 377.7 1082.7C378.7 1080.7 379.6 1078.7 380.4 1076.7C381.3 1074.7 382.1 1072.7 382.9 1070.7C383.6 1068.7 384.4 1066.7 385.0 1064.7C385.7 1062.7 386.4 1060.7 387.0 1058.7C387.6 1056.7 388.2 1054.7 388.7 1052.7C389.3 1050.7 389.8 1048.7 390.4 1046.7C390.9 1044.7 391.4 1042.7 391.9 1040.7C392.4 1038.7 392.9 1036.7 393.4 1034.7C393.9 1032.6 394.4 1030.6 394.8 1028.6C395.3 1026.6 395.8 1024.6 396.2 1022.6C396.7 1020.6 397.1 1018.6 397.6 1016.6C398.0 1014.6 398.5 1012.6 398.9 1010.6C399.3 1008.6 399.8 1006.6 400.2 1004.6C400.6 1002.6 401.0 1000.6 401.4 998.6C401.8 996.6 402.1 994.6 402.5 992.6C402.9 990.6 403.2 988.6 403.5 986.6C403.9 984.6 404.2 982.6 404.4 980.6C404.7 978.6 405.0 976.6 405.2 974.6C405.5 972.6 405.7 970.6 405.9 968.6C406.1 966.6 406.3 964.6 406.5 962.6C406.7 960.6 406.8 958.6 406.9 956.6Z" fill="#ff5555" stroke="#6a6a6a" stroke-width="1.9" stroke-linejoin="round"/>
<line x1="408.1" y1="1024.8" x2="408.1" y2="1327.3" stroke="#6a6a6a" stroke-width="1.7"/>
<line x1="408.1" y1="1144.3" x2="408.1" y2="1255.7" stroke="#6a6a6a" stroke-width="5" stroke-linecap="round"/>
<circle cx="408.1" cy="1186.7" r="1.1" fill="#fff"/>
<path d="M593.4 967.0C593.6 969.0 593.8 971.0 594.0 973.1C594.2 975.1 594.4 977.1 594.7 979.1C595.0 981.1 595.3 983.1 595.7 985.1C596.1 987.1 596.5 989.2 596.9 991.2C597.4 993.2 597.9 995.2 598.5 997.2C599.1 999.2 599.7 1001.2 600.3 1003.2C601.0 1005.3 601.7 1007.3 602.4 1009.3C603.1 1011.3 603.9 1013.3 604.7 1015.3C605.5 1017.3 606.3 1019.4 607.1 1021.4C608.0 1023.4 608.8 1025.4 609.6 1027.4C610.5 1029.4 611.3 1031.4 612.1 1033.4C613.0 1035.5 613.8 1037.5 614.6 1039.5C615.4 1041.5 616.2 1043.5 617.0 1045.5C617.8 1047.5 618.6 1049.5 619.3 1051.6C620.1 1053.6 620.9 1055.6 621.6 1057.6C622.4 1059.6 623.2 1061.6 624.0 1063.6C624.7 1065.6 625.5 1067.7 626.4 1069.7C627.2 1071.7 628.0 1073.7 628.9 1075.7C629.8 1077.7 630.8 1079.7 631.7 1081.7C632.7 1083.8 633.7 1085.8 634.7 1087.8C635.8 1089.8 636.8 1091.8 637.9 1093.8C639.0 1095.8 640.1 1097.9 641.3 1099.9C642.4 1101.9 643.5 1103.9 644.7 1105.9C645.8 1107.9 647.0 1109.9 648.1 1111.9C649.3 1114.0 650.4 1116.0 651.5 1118.0C652.6 1120.0 653.7 1122.0 654.7 1124.0C655.7 1126.0 656.7 1128.0 657.7 1130.1C658.6 1132.1 659.5 1134.1 660.3 1136.1C661.1 1138.1 661.8 1140.1 662.4 1142.1C663.1 1144.1 663.7 1146.2 664.2 1148.2C664.7 1150.2 665.2 1152.2 665.5 1154.2C665.9 1156.2 666.2 1158.2 666.4 1160.2C666.6 1162.3 666.7 1164.3 666.7 1166.3C666.7 1168.3 666.7 1170.3 666.5 1172.3C666.3 1174.3 666.0 1176.4 665.6 1178.4C665.2 1180.4 664.7 1182.4 664.1 1184.4C663.6 1186.4 662.9 1188.4 662.2 1190.4C661.6 1192.5 660.8 1194.5 660.0 1196.5C659.3 1198.5 658.5 1200.5 657.6 1202.5C656.8 1204.5 656.0 1206.5 655.1 1208.6C654.3 1210.6 653.4 1212.6 652.6 1214.6C651.8 1216.6 650.9 1218.6 650.1 1220.6C649.3 1222.6 648.5 1224.7 647.8 1226.7C647.0 1228.7 646.3 1230.7 645.5 1232.7C644.8 1234.7 644.0 1236.7 643.3 1238.7C642.6 1240.8 641.8 1242.8 641.1 1244.8C640.4 1246.8 639.6 1248.8 638.9 1250.8C638.1 1252.8 637.4 1254.9 636.6 1256.9C635.8 1258.9 635.0 1260.9 634.2 1262.9C633.5 1264.9 632.7 1266.9 631.8 1268.9C631.0 1271.0 630.2 1273.0 629.4 1275.0C628.5 1277.0 627.7 1279.0 626.8 1281.0C625.9 1283.0 625.1 1285.0 624.2 1287.1C623.3 1289.1 622.3 1291.1 621.4 1293.1C620.4 1295.1 619.5 1297.1 618.5 1299.1C617.5 1301.1 616.5 1303.2 615.5 1305.2C614.5 1307.2 613.4 1309.2 612.4 1311.2C611.4 1313.2 610.4 1315.2 609.4 1317.3C608.4 1319.3 607.4 1321.3 606.5 1323.3C605.5 1325.3 604.6 1327.3 603.7 1329.3C602.8 1331.3 602.0 1333.4 601.2 1335.4C600.5 1337.4 599.7 1339.4 599.1 1341.4C598.4 1343.4 597.8 1345.4 597.3 1347.4C596.7 1349.5 596.3 1351.5 595.8 1353.5C595.4 1355.5 595.0 1357.5 594.7 1359.5C594.4 1361.5 594.2 1363.5 593.9 1365.6C593.7 1367.6 593.5 1369.6 593.4 1371.6L591.6 1371.6C591.5 1369.6 591.3 1367.6 591.1 1365.6C590.8 1363.5 590.6 1361.5 590.3 1359.5C590.0 1357.5 589.6 1355.5 589.2 1353.5C588.7 1351.5 588.3 1349.5 587.7 1347.4C587.2 1345.4 586.6 1343.4 585.9 1341.4C585.3 1339.4 584.5 1337.4 583.8 1335.4C583.0 1333.4 582.2 1331.3 581.3 1329.3C580.4 1327.3 579.5 1325.3 578.5 1323.3C577.6 1321.3 576.6 1319.3 575.6 1317.3C574.6 1315.2 573.6 1313.2 572.6 1311.2C571.6 1309.2 570.5 1307.2 569.5 1305.2C568.5 1303.2 567.5 1301.1 566.5 1299.1C565.5 1297.1 564.6 1295.1 563.6 1293.1C562.7 1291.1 561.7 1289.1 560.8 1287.1C559.9 1285.0 559.1 1283.0 558.2 1281.0C557.3 1279.0 556.5 1277.0 555.6 1275.0C554.8 1273.0 554.0 1271.0 553.2 1268.9C552.3 1266.9 551.5 1264.9 550.8 1262.9C550.0 1260.9 549.2 1258.9 548.4 1256.9C547.6 1254.9 546.9 1252.8 546.1 1250.8C545.4 1248.8 544.6 1246.8 543.9 1244.8C543.2 1242.8 542.4 1240.8 541.7 1238.7C541.0 1236.7 540.2 1234.7 539.5 1232.7C538.7 1230.7 538.0 1228.7 537.2 1226.7C536.5 1224.7 535.7 1222.6 534.9 1220.6C534.1 1218.6 533.2 1216.6 532.4 1214.6C531.6 1212.6 530.7 1210.6 529.9 1208.6C529.0 1206.5 528.2 1204.5 527.4 1202.5C526.5 1200.5 525.7 1198.5 525.0 1196.5C524.2 1194.5 523.4 1192.5 522.8 1190.4C522.1 1188.4 521.4 1186.4 520.9 1184.4C520.3 1182.4 519.8 1180.4 519.4 1178.4C519.0 1176.4 518.7 1174.3 518.5 1172.3C518.3 1170.3 518.3 1168.3 518.3 1166.3C518.3 1164.3 518.4 1162.3 518.6 1160.2C518.8 1158.2 519.1 1156.2 519.5 1154.2C519.8 1152.2 520.3 1150.2 520.8 1148.2C521.3 1146.2 521.9 1144.1 522.6 1142.1C523.2 1140.1 523.9 1138.1 524.7 1136.1C525.5 1134.1 526.4 1132.1 527.3 1130.1C528.3 1128.0 529.3 1126.0 530.3 1124.0C531.3 1122.0 532.4 1120.0 533.5 1118.0C534.6 1116.0 535.7 1114.0 536.9 1111.9C538.0 1109.9 539.2 1107.9 540.3 1105.9C541.5 1103.9 542.6 1101.9 543.7 1099.9C544.9 1097.9 546.0 1095.8 547.1 1093.8C548.2 1091.8 549.2 1089.8 550.3 1087.8C551.3 1085.8 552.3 1083.8 553.3 1081.7C554.2 1079.7 555.2 1077.7 556.1 1075.7C557.0 1073.7 557.8 1071.7 558.6 1069.7C559.5 1067.7 560.3 1065.6 561.0 1063.6C561.8 1061.6 562.6 1059.6 563.4 1057.6C564.1 1055.6 564.9 1053.6 565.7 1051.6C566.4 1049.5 567.2 1047.5 568.0 1045.5C568.8 1043.5 569.6 1041.5 570.4 1039.5C571.2 1037.5 572.0 1035.5 572.9 1033.4C573.7 1031.4 574.5 1029.4 575.4 1027.4C576.2 1025.4 577.0 1023.4 577.9 1021.4C578.7 1019.4 579.5 1017.3 580.3 1015.3C581.1 1013.3 581.9 1011.3 582.6 1009.3C583.3 1007.3 584.0 1005.3 584.7 1003.2C585.3 1001.2 585.9 999.2 586.5 997.2C587.1 995.2 587.6 993.2 588.1 991.2C588.5 989.2 588.9 987.1 589.3 985.1C589.7 983.1 590.0 981.1 590.3 979.1C590.6 977.1 590.8 975.1 591.0 973.1C591.2 971.0 591.4 969.0 591.6 967.0Z" fill="#ff5555" stroke="#6a6a6a" stroke-width="1.9" stroke-linejoin="round"/>
<line x1="592.5" y1="1029.5" x2="592.5" y2="1309.6" stroke="#6a6a6a" stroke-width="1.7"/>
<line x1="592.5" y1="1125.7" x2="592.5" y2="1219.6" stroke="#6a6a6a" stroke-width="5" stroke-linecap="round"/>
<circle cx="592.5" cy="1173.5" r="1.1" fill="#fff"/>
<path d="M934.6 1032.6C934.8 1034.6 934.9 1036.6 935.1 1038.6C935.3 1040.6 935.5 1042.6 935.8 1044.6C936.0 1046.6 936.3 1048.6 936.7 1050.6C937.0 1052.6 937.4 1054.6 937.8 1056.6C938.2 1058.6 938.7 1060.6 939.2 1062.6C939.8 1064.6 940.3 1066.6 941.0 1068.7C941.6 1070.7 942.2 1072.7 942.9 1074.7C943.7 1076.7 944.4 1078.7 945.1 1080.7C945.9 1082.7 946.7 1084.7 947.4 1086.7C948.2 1088.7 948.9 1090.7 949.7 1092.7C950.4 1094.7 951.0 1096.7 951.7 1098.7C952.3 1100.7 952.9 1102.7 953.4 1104.7C953.9 1106.7 954.4 1108.7 954.8 1110.7C955.2 1112.7 955.6 1114.7 956.0 1116.7C956.3 1118.8 956.6 1120.8 957.0 1122.8C957.3 1124.8 957.6 1126.8 957.9 1128.8C958.2 1130.8 958.5 1132.8 958.8 1134.8C959.2 1136.8 959.5 1138.8 960.0 1140.8C960.4 1142.8 960.9 1144.8 961.5 1146.8C962.1 1148.8 962.8 1150.8 963.6 1152.8C964.5 1154.8 965.4 1156.8 966.5 1158.8C967.6 1160.8 968.9 1162.8 970.3 1164.8C971.6 1166.8 973.2 1168.9 974.8 1170.9C976.5 1172.9 978.3 1174.9 980.3 1176.9C982.2 1178.9 984.3 1180.9 986.5 1182.9C988.6 1184.9 990.9 1186.9 993.2 1188.9C995.6 1190.9 998.0 1192.9 1000.5 1194.9C1002.9 1196.9 1005.4 1198.9 1007.9 1200.9C1010.4 1202.9 1012.8 1204.9 1015.2 1206.9C1017.6 1208.9 1019.9 1210.9 1022.1 1212.9C1024.3 1214.9 1026.4 1216.9 1028.3 1219.0C1030.2 1221.0 1031.9 1223.0 1033.5 1225.0C1035.1 1227.0 1036.5 1229.0 1037.8 1231.0C1039.0 1233.0 1040.1 1235.0 1040.9 1237.0C1041.8 1239.0 1042.5 1241.0 1043.0 1243.0C1043.6 1245.0 1043.9 1247.0 1044.0 1249.0C1044.2 1251.0 1044.1 1253.0 1043.8 1255.0C1043.5 1257.0 1043.0 1259.0 1042.2 1261.0C1041.4 1263.0 1040.3 1265.0 1039.0 1267.0C1037.7 1269.1 1036.2 1271.1 1034.4 1273.1C1032.5 1275.1 1030.5 1277.1 1028.3 1279.1C1026.1 1281.1 1023.7 1283.1 1021.2 1285.1C1018.8 1287.1 1016.2 1289.1 1013.6 1291.1C1011.0 1293.1 1008.4 1295.1 1005.7 1297.1C1003.1 1299.1 1000.5 1301.1 998.0 1303.1C995.4 1305.1 993.0 1307.1 990.6 1309.1C988.2 1311.1 985.8 1313.1 983.6 1315.1C981.4 1317.1 979.3 1319.2 977.3 1321.2C975.3 1323.2 973.4 1325.2 971.6 1327.2C969.8 1329.2 968.2 1331.2 966.6 1333.2C965.1 1335.2 963.6 1337.2 962.3 1339.2C961.0 1341.2 959.8 1343.2 958.8 1345.2C957.8 1347.2 956.9 1349.2 956.1 1351.2C955.3 1353.2 954.6 1355.2 954.1 1357.2C953.5 1359.2 953.0 1361.2 952.7 1363.2C952.3 1365.2 952.1 1367.2 951.9 1369.3C951.7 1371.3 951.6 1373.3 951.5 1375.3C951.4 1377.3 951.4 1379.3 951.4 1381.3C951.4 1383.3 951.5 1385.3 951.5 1387.3C951.6 1389.3 951.7 1391.3 951.7 1393.3C951.8 1395.3 951.9 1397.3 951.9 1399.3C951.9 1401.3 952.0 1403.3 952.0 1405.3C952.0 1407.3 951.9 1409.3 951.9 1411.3C951.8 1413.3 951.7 1415.3 951.5 1417.3C951.3 1419.4 951.1 1421.4 950.8 1423.4C950.5 1425.4 950.2 1427.4 949.8 1429.4C949.4 1431.4 948.9 1433.4 948.4 1435.4C948.0 1437.4 947.4 1439.4 946.9 1441.4C946.4 1443.4 945.8 1445.4 945.2 1447.4C944.6 1449.4 944.0 1451.4 943.5 1453.4C942.9 1455.4 942.3 1457.4 941.7 1459.4C941.2 1461.4 940.6 1463.4 940.1 1465.4C939.6 1467.4 939.1 1469.5 938.6 1471.5C938.1 1473.5 937.7 1475.5 937.3 1477.5C936.9 1479.5 936.5 1481.5 936.2 1483.5C935.9 1485.5 935.6 1487.5 935.3 1489.5C935.1 1491.5 934.9 1493.5 934.7 1495.5L932.1 1495.5C931.9 1493.5 931.7 1491.5 931.5 1489.5C931.2 1487.5 930.9 1485.5 930.6 1483.5C930.3 1481.5 929.9 1479.5 929.5 1477.5C929.1 1475.5 928.7 1473.5 928.2 1471.5C927.7 1469.5 927.2 1467.4 926.7 1465.4C926.2 1463.4 925.6 1461.4 925.1 1459.4C924.5 1457.4 923.9 1455.4 923.3 1453.4C922.8 1451.4 922.2 1449.4 921.6 1447.4C921.0 1445.4 920.4 1443.4 919.9 1441.4C919.4 1439.4 918.8 1437.4 918.4 1435.4C917.9 1433.4 917.4 1431.4 917.0 1429.4C916.6 1427.4 916.3 1425.4 916.0 1423.4C915.7 1421.4 915.5 1419.4 915.3 1417.3C915.1 1415.3 915.0 1413.3 914.9 1411.3C914.9 1409.3 914.8 1407.3 914.8 1405.3C914.8 1403.3 914.9 1401.3 914.9 1399.3C914.9 1397.3 915.0 1395.3 915.1 1393.3C915.1 1391.3 915.2 1389.3 915.3 1387.3C915.3 1385.3 915.4 1383.3 915.4 1381.3C915.4 1379.3 915.4 1377.3 915.3 1375.3C915.2 1373.3 915.1 1371.3 914.9 1369.3C914.7 1367.2 914.5 1365.2 914.1 1363.2C913.8 1361.2 913.3 1359.2 912.7 1357.2C912.2 1355.2 911.5 1353.2 910.7 1351.2C909.9 1349.2 909.0 1347.2 908.0 1345.2C907.0 1343.2 905.8 1341.2 904.5 1339.2C903.2 1337.2 901.7 1335.2 900.2 1333.2C898.6 1331.2 897.0 1329.2 895.2 1327.2C893.4 1325.2 891.5 1323.2 889.5 1321.2C887.5 1319.2 885.4 1317.1 883.2 1315.1C881.0 1313.1 878.6 1311.1 876.2 1309.1C873.8 1307.1 871.4 1305.1 868.8 1303.1C866.3 1301.1 863.7 1299.1 861.1 1297.1C858.4 1295.1 855.8 1293.1 853.2 1291.1C850.6 1289.1 848.0 1287.1 845.6 1285.1C843.1 1283.1 840.7 1281.1 838.5 1279.1C836.3 1277.1 834.3 1275.1 832.4 1273.1C830.6 1271.1 829.1 1269.1 827.8 1267.0C826.5 1265.0 825.4 1263.0 824.6 1261.0C823.8 1259.0 823.3 1257.0 823.0 1255.0C822.7 1253.0 822.6 1251.0 822.8 1249.0C822.9 1247.0 823.2 1245.0 823.8 1243.0C824.3 1241.0 825.0 1239.0 825.9 1237.0C826.7 1235.0 827.8 1233.0 829.0 1231.0C830.3 1229.0 831.7 1227.0 833.3 1225.0C834.9 1223.0 836.6 1221.0 838.5 1219.0C840.4 1216.9 842.5 1214.9 844.7 1212.9C846.9 1210.9 849.2 1208.9 851.6 1206.9C854.0 1204.9 856.4 1202.9 858.9 1200.9C861.4 1198.9 863.9 1196.9 866.3 1194.9C868.8 1192.9 871.2 1190.9 873.6 1188.9C875.9 1186.9 878.2 1184.9 880.3 1182.9C882.5 1180.9 884.6 1178.9 886.5 1176.9C888.5 1174.9 890.3 1172.9 892.0 1170.9C893.6 1168.9 895.2 1166.8 896.5 1164.8C897.9 1162.8 899.2 1160.8 900.3 1158.8C901.4 1156.8 902.3 1154.8 903.2 1152.8C904.0 1150.8 904.7 1148.8 905.3 1146.8C905.9 1144.8 906.4 1142.8 906.8 1140.8C907.3 1138.8 907.6 1136.8 908.0 1134.8C908.3 1132.8 908.6 1130.8 908.9 1128.8C909.2 1126.8 909.5 1124.8 909.8 1122.8C910.2 1120.8 910.5 1118.8 910.8 1116.7C911.2 1114.7 911.6 1112.7 912.0 1110.7C912.4 1108.7 912.9 1106.7 913.4 1104.7C913.9 1102.7 914.5 1100.7 915.1 1098.7C915.8 1096.7 916.4 1094.7 917.1 1092.7C917.9 1090.7 918.6 1088.7 919.4 1086.7C920.1 1084.7 920.9 1082.7 921.7 1080.7C922.4 1078.7 923.1 1076.7 923.9 1074.7C924.6 1072.7 925.2 1070.7 925.8 1068.7C926.5 1066.6 927.0 1064.6 927.6 1062.6C928.1 1060.6 928.6 1058.6 929.0 1056.6C929.4 1054.6 929.8 1052.6 930.1 1050.6C930.5 1048.6 930.8 1046.6 931.0 1044.6C931.3 1042.6 931.5 1040.6 931.7 1038.6C931.9 1036.6 932.0 1034.6 932.2 1032.6Z" fill="#ff5555" stroke="#484848" stroke-width="1.6" stroke-linejoin="round"/>
<line x1="933.4" y1="1130.6" x2="933.4" y2="1356.1" stroke="#484848" stroke-width="1.7"/>
<line x1="933.4" y1="1221.2" x2="933.4" y2="1281.4" stroke="#484848" stroke-width="5" stroke-linecap="round"/>
<circle cx="933.4" cy="1252.4" r="1.1" fill="#fff"/>
<path d="M1211.2 988.4C1211.3 990.4 1211.5 992.5 1211.8 994.5C1212.0 996.5 1212.3 998.5 1212.6 1000.6C1212.9 1002.6 1213.2 1004.6 1213.6 1006.6C1214.0 1008.7 1214.5 1010.7 1215.0 1012.7C1215.4 1014.7 1216.0 1016.7 1216.5 1018.8C1217.1 1020.8 1217.7 1022.8 1218.4 1024.8C1219.0 1026.9 1219.7 1028.9 1220.5 1030.9C1221.2 1032.9 1221.9 1035.0 1222.6 1037.0C1223.4 1039.0 1224.1 1041.0 1224.9 1043.1C1225.6 1045.1 1226.3 1047.1 1226.9 1049.1C1227.6 1051.1 1228.2 1053.2 1228.8 1055.2C1229.4 1057.2 1229.9 1059.2 1230.4 1061.3C1230.9 1063.3 1231.4 1065.3 1231.8 1067.3C1232.2 1069.4 1232.5 1071.4 1232.9 1073.4C1233.2 1075.4 1233.5 1077.4 1233.8 1079.5C1234.1 1081.5 1234.4 1083.5 1234.7 1085.5C1235.0 1087.6 1235.3 1089.6 1235.7 1091.6C1236.0 1093.6 1236.4 1095.7 1236.8 1097.7C1237.2 1099.7 1237.7 1101.7 1238.2 1103.7C1238.8 1105.8 1239.4 1107.8 1240.1 1109.8C1240.9 1111.8 1241.7 1113.9 1242.7 1115.9C1243.7 1117.9 1244.8 1119.9 1246.1 1122.0C1247.4 1124.0 1248.8 1126.0 1250.4 1128.0C1252.0 1130.1 1253.8 1132.1 1255.6 1134.1C1257.5 1136.1 1259.6 1138.1 1261.6 1140.2C1263.7 1142.2 1265.9 1144.2 1268.1 1146.2C1270.3 1148.3 1272.5 1150.3 1274.8 1152.3C1277.1 1154.3 1279.4 1156.4 1281.6 1158.4C1283.9 1160.4 1286.2 1162.4 1288.5 1164.4C1290.7 1166.5 1292.9 1168.5 1295.0 1170.5C1297.1 1172.5 1299.1 1174.6 1301.0 1176.6C1302.9 1178.6 1304.6 1180.6 1306.2 1182.7C1307.7 1184.7 1309.1 1186.7 1310.2 1188.7C1311.4 1190.8 1312.3 1192.8 1312.9 1194.8C1313.5 1196.8 1313.8 1198.8 1313.9 1200.9C1313.9 1202.9 1313.7 1204.9 1313.1 1206.9C1312.5 1209.0 1311.6 1211.0 1310.4 1213.0C1309.2 1215.0 1307.7 1217.1 1306.0 1219.1C1304.3 1221.1 1302.4 1223.1 1300.4 1225.1C1298.3 1227.2 1296.2 1229.2 1294.1 1231.2C1291.9 1233.2 1289.8 1235.3 1287.7 1237.3C1285.6 1239.3 1283.5 1241.3 1281.6 1243.4C1279.6 1245.4 1277.8 1247.4 1276.0 1249.4C1274.3 1251.5 1272.7 1253.5 1271.2 1255.5C1269.7 1257.5 1268.3 1259.5 1267.0 1261.6C1265.7 1263.6 1264.5 1265.6 1263.4 1267.6C1262.3 1269.7 1261.3 1271.7 1260.4 1273.7C1259.5 1275.7 1258.7 1277.8 1257.9 1279.8C1257.1 1281.8 1256.4 1283.8 1255.7 1285.8C1255.0 1287.9 1254.4 1289.9 1253.7 1291.9C1253.1 1293.9 1252.5 1296.0 1251.9 1298.0C1251.3 1300.0 1250.7 1302.0 1250.1 1304.1C1249.5 1306.1 1248.9 1308.1 1248.3 1310.1C1247.7 1312.2 1247.1 1314.2 1246.4 1316.2C1245.8 1318.2 1245.1 1320.2 1244.4 1322.3C1243.7 1324.3 1242.9 1326.3 1242.2 1328.3C1241.4 1330.4 1240.6 1332.4 1239.8 1334.4C1239.0 1336.4 1238.2 1338.5 1237.4 1340.5C1236.6 1342.5 1235.8 1344.5 1234.9 1346.5C1234.1 1348.6 1233.3 1350.6 1232.5 1352.6C1231.6 1354.6 1230.8 1356.7 1230.0 1358.7C1229.2 1360.7 1228.4 1362.7 1227.6 1364.8C1226.9 1366.8 1226.1 1368.8 1225.4 1370.8C1224.6 1372.9 1223.9 1374.9 1223.3 1376.9C1222.6 1378.9 1221.9 1380.9 1221.3 1383.0C1220.7 1385.0 1220.1 1387.0 1219.5 1389.0C1218.9 1391.1 1218.3 1393.1 1217.8 1395.1C1217.3 1397.1 1216.8 1399.2 1216.3 1401.2C1215.8 1403.2 1215.3 1405.2 1214.9 1407.2C1214.4 1409.3 1214.0 1411.3 1213.6 1413.3C1213.3 1415.3 1212.9 1417.4 1212.6 1419.4C1212.3 1421.4 1212.0 1423.4 1211.8 1425.5C1211.5 1427.5 1211.3 1429.5 1211.1 1431.5L1208.7 1431.5C1208.5 1429.5 1208.3 1427.5 1208.0 1425.5C1207.8 1423.4 1207.5 1421.4 1207.2 1419.4C1206.9 1417.4 1206.5 1415.3 1206.2 1413.3C1205.8 1411.3 1205.4 1409.3 1204.9 1407.2C1204.5 1405.2 1204.0 1403.2 1203.5 1401.2C1203.0 1399.2 1202.5 1397.1 1202.0 1395.1C1201.5 1393.1 1200.9 1391.1 1200.3 1389.0C1199.7 1387.0 1199.1 1385.0 1198.5 1383.0C1197.9 1380.9 1197.2 1378.9 1196.5 1376.9C1195.9 1374.9 1195.2 1372.9 1194.4 1370.8C1193.7 1368.8 1192.9 1366.8 1192.2 1364.8C1191.4 1362.7 1190.6 1360.7 1189.8 1358.7C1189.0 1356.7 1188.2 1354.6 1187.3 1352.6C1186.5 1350.6 1185.7 1348.6 1184.9 1346.5C1184.0 1344.5 1183.2 1342.5 1182.4 1340.5C1181.6 1338.5 1180.8 1336.4 1180.0 1334.4C1179.2 1332.4 1178.4 1330.4 1177.6 1328.3C1176.9 1326.3 1176.1 1324.3 1175.4 1322.3C1174.7 1320.2 1174.0 1318.2 1173.4 1316.2C1172.7 1314.2 1172.1 1312.2 1171.5 1310.1C1170.9 1308.1 1170.3 1306.1 1169.7 1304.1C1169.1 1302.0 1168.5 1300.0 1167.9 1298.0C1167.3 1296.0 1166.7 1293.9 1166.1 1291.9C1165.4 1289.9 1164.8 1287.9 1164.1 1285.8C1163.4 1283.8 1162.7 1281.8 1161.9 1279.8C1161.1 1277.8 1160.3 1275.7 1159.4 1273.7C1158.5 1271.7 1157.5 1269.7 1156.4 1267.6C1155.3 1265.6 1154.1 1263.6 1152.8 1261.6C1151.5 1259.5 1150.1 1257.5 1148.6 1255.5C1147.1 1253.5 1145.5 1251.5 1143.8 1249.4C1142.0 1247.4 1140.2 1245.4 1138.2 1243.4C1136.3 1241.3 1134.2 1239.3 1132.1 1237.3C1130.0 1235.3 1127.9 1233.2 1125.7 1231.2C1123.6 1229.2 1121.5 1227.2 1119.4 1225.1C1117.4 1223.1 1115.5 1221.1 1113.8 1219.1C1112.1 1217.1 1110.6 1215.0 1109.4 1213.0C1108.2 1211.0 1107.3 1209.0 1106.7 1206.9C1106.1 1204.9 1105.9 1202.9 1105.9 1200.9C1106.0 1198.8 1106.3 1196.8 1106.9 1194.8C1107.5 1192.8 1108.4 1190.8 1109.6 1188.7C1110.7 1186.7 1112.1 1184.7 1113.6 1182.7C1115.2 1180.6 1116.9 1178.6 1118.8 1176.6C1120.7 1174.6 1122.7 1172.5 1124.8 1170.5C1126.9 1168.5 1129.1 1166.5 1131.3 1164.4C1133.6 1162.4 1135.9 1160.4 1138.2 1158.4C1140.4 1156.4 1142.7 1154.3 1145.0 1152.3C1147.3 1150.3 1149.5 1148.3 1151.7 1146.2C1153.9 1144.2 1156.1 1142.2 1158.2 1140.2C1160.2 1138.1 1162.3 1136.1 1164.2 1134.1C1166.0 1132.1 1167.8 1130.1 1169.4 1128.0C1171.0 1126.0 1172.4 1124.0 1173.7 1122.0C1175.0 1119.9 1176.1 1117.9 1177.1 1115.9C1178.1 1113.9 1178.9 1111.8 1179.7 1109.8C1180.4 1107.8 1181.0 1105.8 1181.6 1103.7C1182.1 1101.7 1182.6 1099.7 1183.0 1097.7C1183.4 1095.7 1183.8 1093.6 1184.1 1091.6C1184.5 1089.6 1184.8 1087.6 1185.1 1085.5C1185.4 1083.5 1185.7 1081.5 1186.0 1079.5C1186.3 1077.4 1186.6 1075.4 1186.9 1073.4C1187.3 1071.4 1187.6 1069.4 1188.0 1067.3C1188.4 1065.3 1188.9 1063.3 1189.4 1061.3C1189.9 1059.2 1190.4 1057.2 1191.0 1055.2C1191.6 1053.2 1192.2 1051.1 1192.9 1049.1C1193.5 1047.1 1194.2 1045.1 1194.9 1043.1C1195.7 1041.0 1196.4 1039.0 1197.2 1037.0C1197.9 1035.0 1198.6 1032.9 1199.3 1030.9C1200.1 1028.9 1200.8 1026.9 1201.4 1024.8C1202.1 1022.8 1202.7 1020.8 1203.3 1018.8C1203.8 1016.7 1204.4 1014.7 1204.8 1012.7C1205.3 1010.7 1205.8 1008.7 1206.2 1006.6C1206.6 1004.6 1206.9 1002.6 1207.2 1000.6C1207.5 998.5 1207.8 996.5 1208.0 994.5C1208.3 992.5 1208.5 990.4 1208.6 988.4Z" fill="#ff5555" stroke="#484848" stroke-width="1.6" stroke-linejoin="round"/>
<line x1="1209.9" y1="1074.0" x2="1209.9" y2="1352.7" stroke="#484848" stroke-width="1.7"/>
<line x1="1209.9" y1="1178.4" x2="1209.9" y2="1248.3" stroke="#484848" stroke-width="5" stroke-linecap="round"/>
<circle cx="1209.9" cy="1203.2" r="1.1" fill="#fff"/>
<line x1="795.4" y1="1235.9" x2="1348.2" y2="1235.9" stroke="#c2464f" stroke-width="1.7" stroke-dasharray="6.88 2.98"/>
<rect x="132.0" y="916.3" width="552.6" height="639.1" fill="none" stroke="#000" stroke-width="1.25"/>
<line x1="127.2" y1="1555.4" x2="132.0" y2="1555.4" stroke="#000" stroke-width="1.25"/>
<line x1="127.2" y1="1448.9" x2="132.0" y2="1448.9" stroke="#000" stroke-width="1.25"/>
<line x1="127.2" y1="1342.4" x2="132.0" y2="1342.4" stroke="#000" stroke-width="1.25"/>
<line x1="127.2" y1="1235.8" x2="132.0" y2="1235.8" stroke="#000" stroke-width="1.25"/>
<line x1="127.2" y1="1129.3" x2="132.0" y2="1129.3" stroke="#000" stroke-width="1.25"/>
<line x1="127.2" y1="1022.8" x2="132.0" y2="1022.8" stroke="#000" stroke-width="1.25"/>
<line x1="127.2" y1="916.3" x2="132.0" y2="916.3" stroke="#000" stroke-width="1.25"/>
<line x1="224.0" y1="1555.4" x2="224.0" y2="1560.2" stroke="#000" stroke-width="1.25"/>
<line x1="408.2" y1="1555.4" x2="408.2" y2="1560.2" stroke="#000" stroke-width="1.25"/>
<line x1="592.5" y1="1555.4" x2="592.5" y2="1560.2" stroke="#000" stroke-width="1.25"/>
<rect x="795.4" y="916.3" width="552.9" height="639.1" fill="none" stroke="#000" stroke-width="1.25"/>
<line x1="790.6" y1="990.0" x2="795.4" y2="990.0" stroke="#000" stroke-width="1.25"/>
<line x1="790.6" y1="1112.9" x2="795.4" y2="1112.9" stroke="#000" stroke-width="1.25"/>
<line x1="790.6" y1="1235.8" x2="795.4" y2="1235.8" stroke="#000" stroke-width="1.25"/>
<line x1="790.6" y1="1358.7" x2="795.4" y2="1358.7" stroke="#000" stroke-width="1.25"/>
<line x1="790.6" y1="1481.6" x2="795.4" y2="1481.6" stroke="#000" stroke-width="1.25"/>
<line x1="933.7" y1="1555.4" x2="933.7" y2="1560.2" stroke="#000" stroke-width="1.25"/>
<line x1="1209.9" y1="1555.4" x2="1209.9" y2="1560.2" stroke="#000" stroke-width="1.25"/>
<path d="M223 1448.8V1455.3H592.6V1448.8" fill="none" stroke="#5a5a5a" stroke-width="1.3"/>
<text x="406.3" y="1500.1" font-size="36" text-anchor="middle">*</text>
<text x="60.5" y="929.7" font-size="36" text-anchor="start">1.0</text>
<text x="60.5" y="1034.0" font-size="36" text-anchor="start">0.9</text>
<text x="60.5" y="1139.9" font-size="36" text-anchor="start">0.8</text>
<text x="60.5" y="1246.5" font-size="36" text-anchor="start">0.7</text>
<text x="60.5" y="1354.4" font-size="36" text-anchor="start">0.6</text>
<text x="60.5" y="1460.2" font-size="36" text-anchor="start">0.5</text>
<text x="60.5" y="1558.6" font-size="36" text-anchor="start">0.4</text>
<text x="705.2" y="1000.2" font-size="36" text-anchor="start">0.10</text>
<text x="705.2" y="1121.8" font-size="36" text-anchor="start">0.05</text>
<text x="705.2" y="1247.9" font-size="36" text-anchor="start">0.00</text>
<text x="696.5" y="1367.6" font-size="36" text-anchor="start">-0.05</text>
<text x="696.5" y="1490.7" font-size="36" text-anchor="start">-0.10</text>
<text x="188.7" y="1600.4" font-size="36" text-anchor="start">2PO</text>
<text x="343.0" y="1600.7" font-size="36" text-anchor="start">PO+PS</text>
<text x="527.5" y="1598.9" font-size="36" text-anchor="start">PO+CE</text>
<text x="831.5" y="1603.2" font-size="52" text-anchor="start">Δ</text>
<text x="870.3" y="1599.0" font-size="36" text-anchor="start">(2PO,PS)</text>
<text x="1102.8" y="1603.2" font-size="52" text-anchor="start">Δ</text>
<text x="1137.9" y="1598.6" font-size="36" text-anchor="start" textLength="158.3" lengthAdjust="spacingAndGlyphs">(2PO,CE)</text>
<text transform="translate(39.4 1234.6) rotate(-90)" font-size="36" text-anchor="middle" textLength="211.5" lengthAdjust="spacingAndGlyphs">Accuracy [-]</text>
<text transform="translate(1408.5 1238.6) rotate(-90)" font-size="36" text-anchor="middle" textLength="210" lengthAdjust="spacingAndGlyphs">Δ(accuracy)</text>
<text class="cap" x="768.4" y="800.3" font-size="37" text-anchor="middle" style="font-family:'Liberation Serif','DejaVu Serif',serif" textLength="538" lengthAdjust="spacingAndGlyphs">(a) Subject-independent training.</text>
<text class="cap" x="771.5" y="1700.7" font-size="37" text-anchor="middle" style="font-family:'Liberation Serif','DejaVu Serif',serif" textLength="388" lengthAdjust="spacingAndGlyphs">(b) Fine-tuned training.</text>
</svg>
</body></html>
